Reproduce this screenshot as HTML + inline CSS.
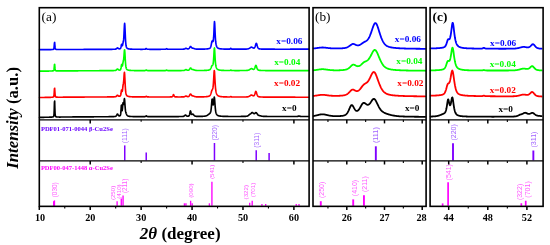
<!DOCTYPE html>
<html><head><meta charset="utf-8"><title>XRD</title><style>
html,body{margin:0;padding:0;background:#fff}
svg{display:block}
text{font-family:"Liberation Serif","Times New Roman",serif}
.tl{font-size:10.2px;font-weight:bold;text-anchor:middle}
.pl{font-size:13.3px}
.sl{font-size:9.25px;font-weight:bold;text-anchor:end}
.pdf{font-size:6.6px;font-weight:bold}
.ax{font-size:17px;font-weight:bold}
.vl{font-weight:normal;font-family:"Liberation Sans",Arial,sans-serif}
</style></head><body>
<svg width="550" height="245" viewBox="0 0 550 245">
<rect x="0" y="0" width="550" height="245" fill="#fff"/>
<polyline fill="none" stroke="#000" stroke-width="1.65" stroke-linejoin="round" stroke-linecap="round" points="39.55,117.39 39.76,117.39 39.97,117.39 40.18,117.38 40.38,117.38 40.59,117.37 40.80,117.37 41.00,117.36 41.21,117.36 41.42,117.36 41.62,117.35 41.83,117.35 42.04,117.34 42.25,117.34 42.45,117.34 42.66,117.33 42.87,117.33 43.07,117.32 43.28,117.32 43.49,117.31 43.69,117.31 43.90,117.31 44.11,117.30 44.32,117.30 44.52,117.29 44.73,117.29 44.94,117.29 45.14,117.28 45.35,117.28 45.56,117.27 45.76,117.27 45.97,117.27 46.18,117.26 46.39,117.26 46.59,117.25 46.80,117.25 47.01,117.25 47.21,117.24 47.42,117.24 47.63,117.23 47.83,117.23 48.04,117.22 48.25,117.22 48.46,117.21 48.66,117.21 48.87,117.20 49.08,117.20 49.28,117.19 49.49,117.19 49.70,117.18 49.91,117.18 50.11,117.17 50.32,117.16 50.53,117.15 50.73,117.15 50.94,117.14 51.15,117.13 51.35,117.11 51.56,117.10 51.77,117.08 51.98,117.06 52.18,117.04 52.39,117.01 52.60,116.97 52.80,116.92 53.01,116.85 53.22,116.75 53.42,116.59 53.63,116.33 53.84,115.75 54.05,113.95 54.25,109.15 54.46,101.87 54.67,101.14 54.87,108.27 55.08,113.53 55.29,115.60 55.49,116.26 55.70,116.54 55.91,116.70 56.12,116.80 56.32,116.87 56.53,116.91 56.74,116.95 56.94,116.97 57.15,116.99 57.36,117.00 57.56,117.02 57.77,117.02 57.98,117.03 58.19,117.04 58.39,117.04 58.60,117.04 58.81,117.04 59.01,117.05 59.22,117.05 59.43,117.05 59.63,117.05 59.84,117.05 60.05,117.05 60.26,117.05 60.46,117.05 60.67,117.05 60.88,117.04 61.08,117.04 61.29,117.04 61.50,117.04 61.70,117.04 61.91,117.04 62.12,117.04 62.33,117.03 62.53,117.03 62.74,117.03 62.95,117.03 63.15,117.03 63.36,117.03 63.57,117.02 63.77,117.02 63.98,117.02 64.19,117.02 64.40,117.02 64.60,117.01 64.81,117.01 65.02,117.01 65.22,117.01 65.43,117.01 65.64,117.01 65.84,117.00 66.05,117.00 66.26,117.00 66.47,117.00 66.67,117.00 66.88,116.99 67.09,116.99 67.29,116.99 67.50,116.99 67.71,116.99 67.91,116.98 68.12,116.98 68.33,116.98 68.54,116.98 68.74,116.98 68.95,116.98 69.16,116.97 69.36,116.97 69.57,116.97 69.78,116.97 69.98,116.97 70.19,116.96 70.40,116.96 70.61,116.96 70.81,116.96 71.02,116.96 71.23,116.95 71.43,116.95 71.64,116.95 71.85,116.95 72.06,116.95 72.26,116.95 72.47,116.94 72.68,116.94 72.88,116.94 73.09,116.94 73.30,116.94 73.50,116.94 73.71,116.93 73.92,116.93 74.13,116.93 74.33,116.93 74.54,116.93 74.75,116.93 74.95,116.92 75.16,116.92 75.37,116.92 75.57,116.92 75.78,116.92 75.99,116.92 76.20,116.91 76.40,116.91 76.61,116.91 76.82,116.91 77.02,116.91 77.23,116.91 77.44,116.90 77.64,116.90 77.85,116.90 78.06,116.90 78.27,116.90 78.47,116.90 78.68,116.89 78.89,116.89 79.09,116.89 79.30,116.89 79.51,116.89 79.71,116.89 79.92,116.89 80.13,116.88 80.34,116.88 80.54,116.88 80.75,116.88 80.96,116.88 81.16,116.88 81.37,116.88 81.58,116.87 81.78,116.87 81.99,116.87 82.20,116.87 82.41,116.87 82.61,116.87 82.82,116.87 83.03,116.86 83.23,116.86 83.44,116.86 83.65,116.86 83.85,116.86 84.06,116.86 84.27,116.86 84.48,116.85 84.68,116.85 84.89,116.85 85.10,116.85 85.30,116.85 85.51,116.85 85.72,116.85 85.92,116.84 86.13,116.84 86.34,116.84 86.55,116.84 86.75,116.84 86.96,116.84 87.17,116.84 87.37,116.84 87.58,116.83 87.79,116.83 87.99,116.83 88.20,116.83 88.41,116.83 88.62,116.83 88.82,116.83 89.03,116.82 89.24,116.82 89.44,116.82 89.65,116.82 89.86,116.82 90.06,116.82 90.27,116.82 90.48,116.82 90.69,116.81 90.89,116.81 91.10,116.81 91.31,116.81 91.51,116.81 91.72,116.81 91.93,116.81 92.13,116.81 92.34,116.80 92.55,116.80 92.76,116.80 92.96,116.80 93.17,116.80 93.38,116.80 93.58,116.80 93.79,116.80 94.00,116.80 94.21,116.79 94.41,116.79 94.62,116.79 94.83,116.79 95.03,116.79 95.24,116.79 95.45,116.79 95.65,116.79 95.86,116.78 96.07,116.78 96.28,116.78 96.48,116.78 96.69,116.78 96.90,116.78 97.10,116.78 97.31,116.78 97.52,116.77 97.72,116.77 97.93,116.77 98.14,116.77 98.35,116.77 98.55,116.77 98.76,116.77 98.97,116.77 99.17,116.77 99.38,116.76 99.59,116.76 99.79,116.76 100.00,116.76 100.21,116.76 100.42,116.76 100.62,116.76 100.83,116.76 101.04,116.75 101.24,116.75 101.45,116.75 101.66,116.75 101.86,116.75 102.07,116.75 102.28,116.75 102.49,116.74 102.69,116.74 102.90,116.74 103.11,116.74 103.31,116.74 103.52,116.74 103.73,116.74 103.93,116.73 104.14,116.73 104.35,116.73 104.56,116.73 104.76,116.73 104.97,116.73 105.18,116.73 105.38,116.72 105.59,116.72 105.80,116.72 106.00,116.72 106.21,116.72 106.42,116.72 106.63,116.71 106.83,116.71 107.04,116.71 107.25,116.71 107.45,116.71 107.66,116.70 107.87,116.70 108.07,116.70 108.28,116.70 108.49,116.70 108.70,116.69 108.90,116.69 109.11,116.69 109.32,116.69 109.52,116.68 109.73,116.68 109.94,116.68 110.14,116.68 110.35,116.67 110.56,116.67 110.77,116.67 110.97,116.66 111.18,116.66 111.39,116.65 111.59,116.65 111.80,116.64 112.01,116.64 112.21,116.63 112.42,116.63 112.63,116.62 112.84,116.61 113.04,116.61 113.25,116.60 113.46,116.59 113.66,116.58 113.87,116.57 114.08,116.56 114.28,116.54 114.49,116.52 114.70,116.50 114.91,116.48 115.11,116.45 115.32,116.40 115.53,116.34 115.73,116.25 115.94,116.11 116.15,115.92 116.36,115.67 116.56,115.34 116.77,114.97 116.98,114.58 117.18,114.23 117.39,114.04 117.60,114.05 117.80,114.27 118.01,114.60 118.22,114.95 118.43,115.27 118.63,115.53 118.84,115.72 119.05,115.83 119.25,115.88 119.46,115.88 119.67,115.84 119.87,115.76 120.08,115.61 120.29,115.38 120.50,114.90 120.70,113.88 120.91,111.83 121.12,108.63 121.32,105.44 121.53,105.05 121.74,107.54 121.94,109.92 122.15,110.67 122.36,109.66 122.57,107.39 122.77,104.65 122.98,102.78 123.19,102.80 123.39,103.89 123.60,104.51 123.81,103.84 124.01,101.92 124.22,99.63 124.43,98.57 124.64,99.81 124.84,102.69 125.05,105.84 125.26,108.50 125.46,110.43 125.67,111.73 125.88,112.60 126.08,113.24 126.29,113.77 126.50,114.23 126.71,114.64 126.91,115.00 127.12,115.30 127.33,115.54 127.53,115.74 127.74,115.89 127.95,116.00 128.15,116.09 128.36,116.16 128.57,116.22 128.78,116.27 128.98,116.30 129.19,116.34 129.40,116.36 129.60,116.39 129.81,116.41 130.02,116.43 130.22,116.44 130.43,116.46 130.64,116.47 130.85,116.49 131.05,116.50 131.26,116.51 131.47,116.52 131.67,116.52 131.88,116.53 132.09,116.54 132.29,116.54 132.50,116.55 132.71,116.56 132.92,116.56 133.12,116.56 133.33,116.57 133.54,116.57 133.74,116.58 133.95,116.58 134.16,116.58 134.36,116.59 134.57,116.59 134.78,116.59 134.99,116.59 135.19,116.60 135.40,116.60 135.61,116.60 135.81,116.60 136.02,116.60 136.23,116.60 136.43,116.61 136.64,116.61 136.85,116.61 137.06,116.61 137.26,116.61 137.47,116.61 137.68,116.61 137.88,116.61 138.09,116.61 138.30,116.62 138.51,116.62 138.71,116.62 138.92,116.62 139.13,116.62 139.33,116.62 139.54,116.62 139.75,116.62 139.95,116.62 140.16,116.62 140.37,116.62 140.58,116.62 140.78,116.62 140.99,116.62 141.20,116.62 141.40,116.62 141.61,116.62 141.82,116.62 142.02,116.62 142.23,116.62 142.44,116.62 142.65,116.62 142.85,116.62 143.06,116.62 143.27,116.61 143.47,116.61 143.68,116.61 143.89,116.61 144.09,116.60 144.30,116.60 144.51,116.59 144.72,116.58 144.92,116.57 145.13,116.54 145.34,116.48 145.54,116.37 145.75,116.20 145.96,115.99 146.16,115.84 146.37,115.87 146.58,116.06 146.79,116.27 146.99,116.42 147.20,116.51 147.41,116.55 147.61,116.57 147.82,116.59 148.03,116.59 148.23,116.60 148.44,116.60 148.65,116.61 148.86,116.61 149.06,116.61 149.27,116.61 149.48,116.61 149.68,116.61 149.89,116.62 150.10,116.62 150.30,116.62 150.51,116.62 150.72,116.62 150.93,116.62 151.13,116.62 151.34,116.62 151.55,116.62 151.75,116.62 151.96,116.62 152.17,116.62 152.37,116.62 152.58,116.62 152.79,116.62 153.00,116.62 153.20,116.62 153.41,116.62 153.62,116.62 153.82,116.62 154.03,116.62 154.24,116.62 154.44,116.62 154.65,116.62 154.86,116.62 155.07,116.62 155.27,116.62 155.48,116.62 155.69,116.61 155.89,116.61 156.10,116.61 156.31,116.61 156.51,116.61 156.72,116.61 156.93,116.61 157.14,116.61 157.34,116.61 157.55,116.61 157.76,116.61 157.96,116.61 158.17,116.61 158.38,116.61 158.58,116.61 158.79,116.61 159.00,116.61 159.21,116.61 159.41,116.61 159.62,116.61 159.83,116.61 160.03,116.61 160.24,116.61 160.45,116.61 160.66,116.61 160.86,116.61 161.07,116.61 161.28,116.61 161.48,116.61 161.69,116.61 161.90,116.61 162.10,116.61 162.31,116.61 162.52,116.60 162.73,116.60 162.93,116.60 163.14,116.60 163.35,116.60 163.55,116.60 163.76,116.60 163.97,116.60 164.17,116.60 164.38,116.60 164.59,116.60 164.80,116.60 165.00,116.60 165.21,116.60 165.42,116.60 165.62,116.60 165.83,116.60 166.04,116.60 166.24,116.60 166.45,116.60 166.66,116.60 166.87,116.60 167.07,116.60 167.28,116.60 167.49,116.59 167.69,116.59 167.90,116.59 168.11,116.59 168.31,116.59 168.52,116.59 168.73,116.59 168.94,116.59 169.14,116.59 169.35,116.59 169.56,116.59 169.76,116.59 169.97,116.59 170.18,116.59 170.38,116.59 170.59,116.59 170.80,116.59 171.01,116.59 171.21,116.59 171.42,116.58 171.63,116.58 171.83,116.58 172.04,116.58 172.25,116.58 172.45,116.58 172.66,116.58 172.87,116.58 173.08,116.58 173.28,116.58 173.49,116.58 173.70,116.58 173.90,116.58 174.11,116.58 174.32,116.57 174.52,116.57 174.73,116.57 174.94,116.57 175.15,116.57 175.35,116.57 175.56,116.57 175.77,116.57 175.97,116.57 176.18,116.57 176.39,116.57 176.59,116.56 176.80,116.56 177.01,116.56 177.22,116.56 177.42,116.56 177.63,116.56 177.84,116.56 178.04,116.55 178.25,116.55 178.46,116.55 178.66,116.55 178.87,116.55 179.08,116.54 179.29,116.54 179.49,116.54 179.70,116.54 179.91,116.53 180.11,116.53 180.32,116.53 180.53,116.53 180.74,116.52 180.94,116.52 181.15,116.51 181.36,116.51 181.56,116.50 181.77,116.49 181.98,116.49 182.18,116.48 182.39,116.47 182.60,116.45 182.81,116.44 183.01,116.41 183.22,116.38 183.43,116.34 183.63,116.28 183.84,116.19 184.05,116.08 184.25,115.94 184.46,115.78 184.67,115.59 184.88,115.40 185.08,115.23 185.29,115.12 185.50,115.09 185.70,115.15 185.91,115.29 186.12,115.46 186.32,115.64 186.53,115.80 186.74,115.94 186.95,116.04 187.15,116.12 187.36,116.17 187.57,116.20 187.77,116.21 187.98,116.20 188.19,116.17 188.39,116.14 188.60,116.07 188.81,115.97 189.02,115.80 189.22,115.50 189.43,115.02 189.64,114.28 189.84,113.30 190.05,112.18 190.26,111.23 190.46,110.88 190.67,111.32 190.88,112.23 191.09,113.15 191.29,113.87 191.50,114.30 191.71,114.49 191.91,114.50 192.12,114.41 192.33,114.28 192.53,114.17 192.74,114.12 192.95,114.16 193.16,114.29 193.36,114.48 193.57,114.72 193.78,114.96 193.98,115.20 194.19,115.43 194.40,115.62 194.60,115.79 194.81,115.93 195.02,116.04 195.23,116.12 195.43,116.19 195.64,116.24 195.85,116.27 196.05,116.30 196.26,116.32 196.47,116.34 196.67,116.35 196.88,116.36 197.09,116.37 197.30,116.38 197.50,116.38 197.71,116.39 197.92,116.39 198.12,116.39 198.33,116.40 198.54,116.40 198.74,116.40 198.95,116.40 199.16,116.40 199.37,116.40 199.57,116.40 199.78,116.40 199.99,116.39 200.19,116.39 200.40,116.39 200.61,116.38 200.81,116.38 201.02,116.38 201.23,116.37 201.44,116.37 201.64,116.36 201.85,116.35 202.06,116.35 202.26,116.34 202.47,116.33 202.68,116.32 202.89,116.31 203.09,116.30 203.30,116.29 203.51,116.28 203.71,116.27 203.92,116.25 204.13,116.23 204.33,116.21 204.54,116.19 204.75,116.16 204.96,116.13 205.16,116.10 205.37,116.06 205.58,116.02 205.78,115.96 205.99,115.91 206.20,115.84 206.40,115.76 206.61,115.67 206.82,115.58 207.03,115.47 207.23,115.35 207.44,115.22 207.65,115.08 207.85,114.94 208.06,114.78 208.27,114.62 208.47,114.46 208.68,114.29 208.89,114.13 209.10,113.97 209.30,113.82 209.51,113.66 209.72,113.50 209.92,113.30 210.13,113.06 210.34,112.72 210.54,112.24 210.75,111.53 210.96,110.49 211.17,109.00 211.37,106.99 211.58,104.48 211.79,101.76 211.99,99.64 212.20,99.12 212.41,100.31 212.61,102.26 212.82,103.96 213.03,104.90 213.24,104.92 213.44,104.02 213.65,102.31 213.86,100.12 214.06,98.07 214.27,97.11 214.48,97.89 214.68,100.15 214.89,103.03 215.10,105.81 215.31,108.16 215.51,110.02 215.72,111.44 215.93,112.48 216.13,113.25 216.34,113.81 216.55,114.24 216.75,114.56 216.96,114.81 217.17,115.02 217.38,115.19 217.58,115.33 217.79,115.45 218.00,115.56 218.20,115.65 218.41,115.72 218.62,115.79 218.82,115.85 219.03,115.90 219.24,115.95 219.45,115.99 219.65,116.03 219.86,116.06 220.07,116.09 220.27,116.12 220.48,116.15 220.69,116.17 220.89,116.19 221.10,116.21 221.31,116.23 221.52,116.24 221.72,116.26 221.93,116.27 222.14,116.28 222.34,116.29 222.55,116.31 222.76,116.32 222.96,116.33 223.17,116.33 223.38,116.34 223.59,116.35 223.79,116.36 224.00,116.36 224.21,116.37 224.41,116.38 224.62,116.38 224.83,116.39 225.04,116.39 225.24,116.40 225.45,116.40 225.66,116.41 225.86,116.41 226.07,116.41 226.28,116.42 226.48,116.42 226.69,116.42 226.90,116.43 227.11,116.43 227.31,116.43 227.52,116.44 227.73,116.44 227.93,116.44 228.14,116.44 228.35,116.45 228.55,116.45 228.76,116.45 228.97,116.45 229.18,116.45 229.38,116.45 229.59,116.46 229.80,116.46 230.00,116.46 230.21,116.46 230.42,116.46 230.62,116.46 230.83,116.46 231.04,116.46 231.25,116.46 231.45,116.47 231.66,116.47 231.87,116.47 232.07,116.47 232.28,116.47 232.49,116.47 232.69,116.47 232.90,116.47 233.11,116.47 233.32,116.47 233.52,116.47 233.73,116.47 233.94,116.47 234.14,116.47 234.35,116.47 234.56,116.47 234.76,116.47 234.97,116.47 235.18,116.47 235.39,116.47 235.59,116.47 235.80,116.47 236.01,116.47 236.21,116.47 236.42,116.47 236.63,116.47 236.83,116.47 237.04,116.47 237.25,116.47 237.46,116.47 237.66,116.47 237.87,116.47 238.08,116.47 238.28,116.46 238.49,116.46 238.70,116.46 238.90,116.46 239.11,116.46 239.32,116.46 239.53,116.46 239.73,116.46 239.94,116.45 240.15,116.45 240.35,116.45 240.56,116.45 240.77,116.45 240.97,116.44 241.18,116.44 241.39,116.44 241.60,116.44 241.80,116.43 242.01,116.43 242.22,116.43 242.42,116.42 242.63,116.42 242.84,116.42 243.04,116.41 243.25,116.41 243.46,116.40 243.67,116.40 243.87,116.39 244.08,116.38 244.29,116.38 244.49,116.37 244.70,116.36 244.91,116.35 245.11,116.34 245.32,116.33 245.53,116.32 245.74,116.31 245.94,116.29 246.15,116.27 246.36,116.25 246.56,116.23 246.77,116.19 246.98,116.15 247.19,116.10 247.39,116.04 247.60,115.96 247.81,115.87 248.01,115.75 248.22,115.61 248.43,115.45 248.63,115.27 248.84,115.07 249.05,114.87 249.26,114.67 249.46,114.49 249.67,114.34 249.88,114.21 250.08,114.09 250.29,113.98 250.50,113.85 250.70,113.70 250.91,113.53 251.12,113.33 251.33,113.12 251.53,112.92 251.74,112.73 251.95,112.59 252.15,112.51 252.36,112.51 252.57,112.58 252.77,112.72 252.98,112.89 253.19,113.09 253.40,113.27 253.60,113.44 253.81,113.57 254.02,113.64 254.22,113.67 254.43,113.63 254.64,113.54 254.84,113.40 255.05,113.23 255.26,113.03 255.47,112.85 255.67,112.70 255.88,112.62 256.09,112.62 256.29,112.72 256.50,112.91 256.71,113.16 256.91,113.46 257.12,113.77 257.33,114.08 257.54,114.37 257.74,114.63 257.95,114.86 258.16,115.05 258.36,115.21 258.57,115.33 258.78,115.42 258.98,115.48 259.19,115.53 259.40,115.57 259.61,115.61 259.81,115.65 260.02,115.69 260.23,115.75 260.43,115.81 260.64,115.87 260.85,115.93 261.05,115.99 261.26,116.05 261.47,116.10 261.68,116.15 261.88,116.19 262.09,116.23 262.30,116.26 262.50,116.28 262.71,116.30 262.92,116.32 263.12,116.34 263.33,116.35 263.54,116.36 263.75,116.37 263.95,116.38 264.16,116.39 264.37,116.39 264.57,116.40 264.78,116.41 264.99,116.41 265.19,116.42 265.40,116.42 265.61,116.42 265.82,116.43 266.02,116.43 266.23,116.43 266.44,116.44 266.64,116.44 266.85,116.44 267.06,116.44 267.26,116.45 267.47,116.45 267.68,116.45 267.89,116.45 268.09,116.45 268.30,116.46 268.51,116.46 268.71,116.46 268.92,116.46 269.13,116.46 269.34,116.46 269.54,116.47 269.75,116.47 269.96,116.47 270.16,116.47 270.37,116.47 270.58,116.47 270.78,116.47 270.99,116.47 271.20,116.47 271.41,116.47 271.61,116.48 271.82,116.48 272.03,116.48 272.23,116.48 272.44,116.48 272.65,116.48 272.85,116.48 273.06,116.48 273.27,116.48 273.48,116.48 273.68,116.48 273.89,116.48 274.10,116.48 274.30,116.48 274.51,116.48 274.72,116.48 274.92,116.48 275.13,116.48 275.34,116.48 275.55,116.49 275.75,116.49 275.96,116.49 276.17,116.49 276.37,116.49 276.58,116.49 276.79,116.49 276.99,116.49 277.20,116.49 277.41,116.49 277.62,116.49 277.82,116.49 278.03,116.49 278.24,116.49 278.44,116.49 278.65,116.49 278.86,116.49 279.06,116.49 279.27,116.49 279.48,116.49 279.69,116.49 279.89,116.49 280.10,116.49 280.31,116.49 280.51,116.49 280.72,116.49 280.93,116.49 281.13,116.49 281.34,116.49 281.55,116.49 281.76,116.49 281.96,116.49 282.17,116.49 282.38,116.49 282.58,116.49 282.79,116.49 283.00,116.49 283.20,116.49 283.41,116.49 283.62,116.49 283.83,116.49 284.03,116.49 284.24,116.49 284.45,116.49 284.65,116.49 284.86,116.49 285.07,116.49 285.27,116.49 285.48,116.49 285.69,116.49 285.90,116.49 286.10,116.49 286.31,116.49 286.52,116.49 286.72,116.49 286.93,116.49 287.14,116.49 287.34,116.49 287.55,116.49 287.76,116.49 287.97,116.49 288.17,116.49 288.38,116.49 288.59,116.49 288.79,116.49 289.00,116.49 289.21,116.49 289.41,116.49 289.62,116.49 289.83,116.49 290.04,116.49 290.24,116.49 290.45,116.49 290.66,116.49 290.86,116.49 291.07,116.49 291.28,116.49 291.49,116.49 291.69,116.49 291.90,116.49 292.11,116.49 292.31,116.49 292.52,116.49 292.73,116.49 292.93,116.49 293.14,116.49 293.35,116.49 293.56,116.49 293.76,116.48 293.97,116.48 294.18,116.48 294.38,116.48 294.59,116.48 294.80,116.48 295.00,116.48 295.21,116.48 295.42,116.48 295.63,116.48 295.83,116.48 296.04,116.47 296.25,116.47 296.45,116.47 296.66,116.46 296.87,116.46 297.07,116.45 297.28,116.44 297.49,116.42 297.70,116.39 297.90,116.35 298.11,116.28 298.32,116.20 298.52,116.11 298.73,116.03 298.94,115.99 299.14,116.00 299.35,116.07 299.56,116.16 299.77,116.24 299.97,116.31 300.18,116.37 300.39,116.40 300.59,116.43 300.80,116.44 301.01,116.45 301.21,116.46 301.42,116.46 301.63,116.47 301.84,116.47 302.04,116.47 302.25,116.47 302.46,116.47 302.66,116.48 302.87,116.48 303.08,116.48 303.28,116.48 303.49,116.48 303.70,116.48 303.91,116.48 304.11,116.48 304.32,116.48 304.53,116.48 304.73,116.48 304.94,116.48 305.15,116.48 305.35,116.48 305.56,116.48 305.77,116.48 305.98,116.48 306.18,116.48 306.39,116.48 306.60,116.48 306.80,116.48 307.01,116.48 307.22,116.48 307.42,116.48 307.63,116.48 307.84,116.48 308.05,116.48 308.25,116.48 308.46,116.48 308.67,116.48"/>
<polyline fill="none" stroke="#ff0000" stroke-width="1.65" stroke-linejoin="round" stroke-linecap="round" points="39.55,97.54 39.76,97.54 39.97,97.54 40.18,97.53 40.38,97.53 40.59,97.52 40.80,97.52 41.00,97.51 41.21,97.51 41.42,97.51 41.62,97.50 41.83,97.50 42.04,97.49 42.25,97.49 42.45,97.49 42.66,97.48 42.87,97.48 43.07,97.47 43.28,97.47 43.49,97.47 43.69,97.46 43.90,97.46 44.11,97.45 44.32,97.45 44.52,97.45 44.73,97.44 44.94,97.44 45.14,97.43 45.35,97.43 45.56,97.43 45.76,97.42 45.97,97.42 46.18,97.41 46.39,97.41 46.59,97.41 46.80,97.40 47.01,97.40 47.21,97.39 47.42,97.39 47.63,97.39 47.83,97.38 48.04,97.38 48.25,97.37 48.46,97.37 48.66,97.37 48.87,97.36 49.08,97.36 49.28,97.35 49.49,97.35 49.70,97.34 49.91,97.34 50.11,97.33 50.32,97.32 50.53,97.32 50.73,97.31 50.94,97.30 51.15,97.29 51.35,97.28 51.56,97.27 51.77,97.26 51.98,97.25 52.18,97.23 52.39,97.20 52.60,97.18 52.80,97.14 53.01,97.08 53.22,97.01 53.42,96.89 53.63,96.68 53.84,96.17 54.05,94.81 54.25,92.02 54.46,88.60 54.67,88.29 54.87,91.56 55.08,94.53 55.29,96.04 55.49,96.62 55.70,96.85 55.91,96.96 56.12,97.04 56.32,97.09 56.53,97.12 56.74,97.14 56.94,97.16 57.15,97.18 57.36,97.19 57.56,97.19 57.77,97.20 57.98,97.20 58.19,97.21 58.39,97.21 58.60,97.21 58.81,97.21 59.01,97.21 59.22,97.21 59.43,97.21 59.63,97.21 59.84,97.21 60.05,97.21 60.26,97.21 60.46,97.21 60.67,97.21 60.88,97.21 61.08,97.21 61.29,97.21 61.50,97.20 61.70,97.20 61.91,97.20 62.12,97.20 62.33,97.20 62.53,97.20 62.74,97.20 62.95,97.19 63.15,97.19 63.36,97.19 63.57,97.19 63.77,97.19 63.98,97.19 64.19,97.18 64.40,97.18 64.60,97.18 64.81,97.18 65.02,97.18 65.22,97.17 65.43,97.17 65.64,97.17 65.84,97.17 66.05,97.17 66.26,97.17 66.47,97.16 66.67,97.16 66.88,97.16 67.09,97.16 67.29,97.16 67.50,97.16 67.71,97.15 67.91,97.15 68.12,97.15 68.33,97.15 68.54,97.15 68.74,97.15 68.95,97.14 69.16,97.14 69.36,97.14 69.57,97.14 69.78,97.14 69.98,97.14 70.19,97.14 70.40,97.13 70.61,97.13 70.81,97.13 71.02,97.13 71.23,97.13 71.43,97.13 71.64,97.12 71.85,97.12 72.06,97.12 72.26,97.12 72.47,97.12 72.68,97.12 72.88,97.12 73.09,97.11 73.30,97.11 73.50,97.11 73.71,97.11 73.92,97.11 74.13,97.11 74.33,97.11 74.54,97.10 74.75,97.10 74.95,97.10 75.16,97.10 75.37,97.10 75.57,97.10 75.78,97.10 75.99,97.09 76.20,97.09 76.40,97.09 76.61,97.09 76.82,97.09 77.02,97.09 77.23,97.09 77.44,97.09 77.64,97.08 77.85,97.08 78.06,97.08 78.27,97.08 78.47,97.08 78.68,97.08 78.89,97.08 79.09,97.08 79.30,97.07 79.51,97.07 79.71,97.07 79.92,97.07 80.13,97.07 80.34,97.07 80.54,97.07 80.75,97.07 80.96,97.07 81.16,97.06 81.37,97.06 81.58,97.06 81.78,97.06 81.99,97.06 82.20,97.06 82.41,97.06 82.61,97.06 82.82,97.06 83.03,97.05 83.23,97.05 83.44,97.05 83.65,97.05 83.85,97.05 84.06,97.05 84.27,97.05 84.48,97.05 84.68,97.05 84.89,97.04 85.10,97.04 85.30,97.04 85.51,97.04 85.72,97.04 85.92,97.04 86.13,97.04 86.34,97.04 86.55,97.04 86.75,97.04 86.96,97.03 87.17,97.03 87.37,97.03 87.58,97.03 87.79,97.03 87.99,97.03 88.20,97.03 88.41,97.03 88.62,97.03 88.82,97.03 89.03,97.03 89.24,97.02 89.44,97.02 89.65,97.02 89.86,97.02 90.06,97.02 90.27,97.02 90.48,97.02 90.69,97.02 90.89,97.02 91.10,97.02 91.31,97.02 91.51,97.02 91.72,97.01 91.93,97.01 92.13,97.01 92.34,97.01 92.55,97.01 92.76,97.01 92.96,97.01 93.17,97.01 93.38,97.01 93.58,97.01 93.79,97.01 94.00,97.01 94.21,97.00 94.41,97.00 94.62,97.00 94.83,97.00 95.03,97.00 95.24,97.00 95.45,97.00 95.65,97.00 95.86,97.00 96.07,97.00 96.28,97.00 96.48,97.00 96.69,96.99 96.90,96.99 97.10,96.99 97.31,96.99 97.52,96.99 97.72,96.99 97.93,96.99 98.14,96.99 98.35,96.99 98.55,96.99 98.76,96.99 98.97,96.99 99.17,96.98 99.38,96.98 99.59,96.98 99.79,96.98 100.00,96.98 100.21,96.98 100.42,96.98 100.62,96.98 100.83,96.98 101.04,96.98 101.24,96.98 101.45,96.98 101.66,96.97 101.86,96.97 102.07,96.97 102.28,96.97 102.49,96.97 102.69,96.97 102.90,96.97 103.11,96.97 103.31,96.97 103.52,96.97 103.73,96.97 103.93,96.96 104.14,96.96 104.35,96.96 104.56,96.96 104.76,96.96 104.97,96.96 105.18,96.96 105.38,96.96 105.59,96.96 105.80,96.95 106.00,96.95 106.21,96.95 106.42,96.95 106.63,96.95 106.83,96.95 107.04,96.95 107.25,96.94 107.45,96.94 107.66,96.94 107.87,96.94 108.07,96.94 108.28,96.94 108.49,96.94 108.70,96.93 108.90,96.93 109.11,96.93 109.32,96.93 109.52,96.93 109.73,96.92 109.94,96.92 110.14,96.92 110.35,96.92 110.56,96.91 110.77,96.91 110.97,96.91 111.18,96.90 111.39,96.90 111.59,96.90 111.80,96.89 112.01,96.89 112.21,96.89 112.42,96.88 112.63,96.88 112.84,96.87 113.04,96.87 113.25,96.86 113.46,96.85 113.66,96.84 113.87,96.84 114.08,96.83 114.28,96.82 114.49,96.80 114.70,96.79 114.91,96.77 115.11,96.75 115.32,96.72 115.53,96.68 115.73,96.63 115.94,96.55 116.15,96.43 116.36,96.27 116.56,96.08 116.77,95.84 116.98,95.60 117.18,95.38 117.39,95.25 117.60,95.25 117.80,95.38 118.01,95.58 118.22,95.79 118.43,95.97 118.63,96.11 118.84,96.21 119.05,96.26 119.25,96.28 119.46,96.26 119.67,96.22 119.87,96.14 120.08,96.03 120.29,95.86 120.50,95.56 120.70,95.01 120.91,94.05 121.12,92.62 121.32,90.99 121.53,90.01 121.74,90.30 121.94,91.13 122.15,91.49 122.36,90.96 122.57,89.53 122.77,87.55 122.98,85.63 123.19,84.35 123.39,83.45 123.60,82.08 123.81,79.74 124.01,76.59 124.22,73.62 124.43,72.41 124.64,74.00 124.84,77.68 125.05,81.99 125.26,85.93 125.46,89.07 125.67,91.37 125.88,92.94 126.08,93.97 126.29,94.64 126.50,95.09 126.71,95.40 126.91,95.63 127.12,95.81 127.33,95.96 127.53,96.08 127.74,96.18 127.95,96.26 128.15,96.33 128.36,96.39 128.57,96.45 128.78,96.49 128.98,96.53 129.19,96.57 129.40,96.60 129.60,96.62 129.81,96.65 130.02,96.67 130.22,96.69 130.43,96.71 130.64,96.72 130.85,96.74 131.05,96.75 131.26,96.77 131.47,96.78 131.67,96.79 131.88,96.80 132.09,96.81 132.29,96.81 132.50,96.82 132.71,96.83 132.92,96.83 133.12,96.84 133.33,96.85 133.54,96.85 133.74,96.86 133.95,96.86 134.16,96.87 134.36,96.87 134.57,96.87 134.78,96.88 134.99,96.88 135.19,96.88 135.40,96.89 135.61,96.89 135.81,96.89 136.02,96.89 136.23,96.90 136.43,96.90 136.64,96.90 136.85,96.90 137.06,96.91 137.26,96.91 137.47,96.91 137.68,96.91 137.88,96.91 138.09,96.91 138.30,96.92 138.51,96.92 138.71,96.92 138.92,96.92 139.13,96.92 139.33,96.92 139.54,96.92 139.75,96.92 139.95,96.93 140.16,96.93 140.37,96.93 140.58,96.93 140.78,96.93 140.99,96.93 141.20,96.93 141.40,96.93 141.61,96.93 141.82,96.93 142.02,96.93 142.23,96.93 142.44,96.93 142.65,96.93 142.85,96.93 143.06,96.93 143.27,96.93 143.47,96.93 143.68,96.93 143.89,96.93 144.09,96.93 144.30,96.93 144.51,96.92 144.72,96.92 144.92,96.90 145.13,96.88 145.34,96.84 145.54,96.76 145.75,96.63 145.96,96.47 146.16,96.36 146.37,96.39 146.58,96.53 146.79,96.68 146.99,96.79 147.20,96.86 147.41,96.90 147.61,96.92 147.82,96.92 148.03,96.93 148.23,96.94 148.44,96.94 148.65,96.94 148.86,96.94 149.06,96.95 149.27,96.95 149.48,96.95 149.68,96.95 149.89,96.95 150.10,96.95 150.30,96.95 150.51,96.95 150.72,96.95 150.93,96.96 151.13,96.96 151.34,96.96 151.55,96.96 151.75,96.96 151.96,96.96 152.17,96.96 152.37,96.96 152.58,96.96 152.79,96.96 153.00,96.96 153.20,96.96 153.41,96.96 153.62,96.96 153.82,96.96 154.03,96.96 154.24,96.96 154.44,96.96 154.65,96.96 154.86,96.96 155.07,96.96 155.27,96.96 155.48,96.96 155.69,96.96 155.89,96.96 156.10,96.96 156.31,96.96 156.51,96.96 156.72,96.97 156.93,96.97 157.14,96.97 157.34,96.97 157.55,96.97 157.76,96.97 157.96,96.97 158.17,96.97 158.38,96.97 158.58,96.97 158.79,96.97 159.00,96.97 159.21,96.97 159.41,96.97 159.62,96.97 159.83,96.97 160.03,96.97 160.24,96.97 160.45,96.97 160.66,96.97 160.86,96.97 161.07,96.97 161.28,96.97 161.48,96.97 161.69,96.97 161.90,96.97 162.10,96.97 162.31,96.97 162.52,96.97 162.73,96.97 162.93,96.97 163.14,96.97 163.35,96.97 163.55,96.97 163.76,96.97 163.97,96.97 164.17,96.97 164.38,96.97 164.59,96.97 164.80,96.97 165.00,96.97 165.21,96.97 165.42,96.97 165.62,96.97 165.83,96.97 166.04,96.97 166.24,96.97 166.45,96.97 166.66,96.97 166.87,96.97 167.07,96.97 167.28,96.96 167.49,96.96 167.69,96.96 167.90,96.96 168.11,96.96 168.31,96.96 168.52,96.96 168.73,96.96 168.94,96.96 169.14,96.95 169.35,96.95 169.56,96.95 169.76,96.95 169.97,96.94 170.18,96.94 170.38,96.93 170.59,96.93 170.80,96.92 171.01,96.91 171.21,96.90 171.42,96.88 171.63,96.86 171.83,96.83 172.04,96.78 172.25,96.68 172.45,96.51 172.66,96.22 172.87,95.82 173.08,95.31 173.28,94.86 173.49,94.68 173.70,94.91 173.90,95.39 174.11,95.88 174.32,96.27 174.52,96.54 174.73,96.70 174.94,96.78 175.15,96.83 175.35,96.86 175.56,96.88 175.77,96.90 175.97,96.91 176.18,96.92 176.39,96.92 176.59,96.93 176.80,96.93 177.01,96.94 177.22,96.94 177.42,96.94 177.63,96.95 177.84,96.95 178.04,96.95 178.25,96.95 178.46,96.95 178.66,96.95 178.87,96.95 179.08,96.95 179.29,96.95 179.49,96.95 179.70,96.95 179.91,96.95 180.11,96.95 180.32,96.95 180.53,96.95 180.74,96.95 180.94,96.94 181.15,96.94 181.36,96.94 181.56,96.94 181.77,96.93 181.98,96.93 182.18,96.93 182.39,96.92 182.60,96.92 182.81,96.91 183.01,96.90 183.22,96.89 183.43,96.88 183.63,96.86 183.84,96.84 184.05,96.80 184.25,96.75 184.46,96.69 184.67,96.61 184.88,96.51 185.08,96.39 185.29,96.27 185.50,96.15 185.70,96.05 185.91,96.01 186.12,96.02 186.32,96.08 186.53,96.18 186.74,96.29 186.95,96.40 187.15,96.49 187.36,96.56 187.57,96.60 187.77,96.62 187.98,96.62 188.19,96.60 188.39,96.55 188.60,96.46 188.81,96.33 189.02,96.15 189.22,95.92 189.43,95.62 189.64,95.27 189.84,94.89 190.05,94.51 190.26,94.20 190.46,94.02 190.67,94.02 190.88,94.19 191.09,94.47 191.29,94.79 191.50,95.10 191.71,95.36 191.91,95.57 192.12,95.71 192.33,95.81 192.53,95.86 192.74,95.90 192.95,95.93 193.16,95.97 193.36,96.02 193.57,96.09 193.78,96.16 193.98,96.25 194.19,96.33 194.40,96.41 194.60,96.48 194.81,96.55 195.02,96.61 195.23,96.67 195.43,96.71 195.64,96.75 195.85,96.78 196.05,96.80 196.26,96.82 196.47,96.84 196.67,96.85 196.88,96.86 197.09,96.87 197.30,96.87 197.50,96.88 197.71,96.88 197.92,96.89 198.12,96.89 198.33,96.89 198.54,96.89 198.74,96.89 198.95,96.89 199.16,96.89 199.37,96.89 199.57,96.89 199.78,96.89 199.99,96.89 200.19,96.89 200.40,96.89 200.61,96.89 200.81,96.89 201.02,96.88 201.23,96.88 201.44,96.88 201.64,96.87 201.85,96.87 202.06,96.87 202.26,96.86 202.47,96.86 202.68,96.85 202.89,96.85 203.09,96.84 203.30,96.84 203.51,96.83 203.71,96.82 203.92,96.82 204.13,96.81 204.33,96.80 204.54,96.79 204.75,96.78 204.96,96.77 205.16,96.76 205.37,96.74 205.58,96.73 205.78,96.72 205.99,96.70 206.20,96.68 206.40,96.66 206.61,96.64 206.82,96.62 207.03,96.59 207.23,96.57 207.44,96.54 207.65,96.50 207.85,96.46 208.06,96.42 208.27,96.38 208.47,96.32 208.68,96.26 208.89,96.19 209.10,96.11 209.30,96.01 209.51,95.88 209.72,95.72 209.92,95.51 210.13,95.25 210.34,94.91 210.54,94.48 210.75,93.96 210.96,93.35 211.17,92.66 211.37,91.93 211.58,91.22 211.79,90.59 211.99,90.11 212.20,89.76 212.41,89.43 212.61,88.99 212.82,88.29 213.03,87.17 213.24,85.48 213.44,83.06 213.65,79.83 213.86,76.02 214.06,72.45 214.27,70.60 214.48,71.54 214.68,74.77 214.89,78.84 215.10,82.61 215.31,85.67 215.51,88.02 215.72,89.80 215.93,91.14 216.13,92.17 216.34,92.96 216.55,93.58 216.75,94.08 216.96,94.48 217.17,94.81 217.38,95.08 217.58,95.30 217.79,95.49 218.00,95.65 218.20,95.79 218.41,95.91 218.62,96.01 218.82,96.10 219.03,96.18 219.24,96.25 219.45,96.31 219.65,96.37 219.86,96.41 220.07,96.46 220.27,96.50 220.48,96.54 220.69,96.57 220.89,96.60 221.10,96.63 221.31,96.65 221.52,96.67 221.72,96.70 221.93,96.72 222.14,96.73 222.34,96.75 222.55,96.77 222.76,96.78 222.96,96.79 223.17,96.81 223.38,96.82 223.59,96.83 223.79,96.84 224.00,96.85 224.21,96.86 224.41,96.87 224.62,96.87 224.83,96.88 225.04,96.89 225.24,96.90 225.45,96.90 225.66,96.91 225.86,96.91 226.07,96.92 226.28,96.93 226.48,96.93 226.69,96.93 226.90,96.94 227.11,96.94 227.31,96.95 227.52,96.95 227.73,96.95 227.93,96.96 228.14,96.96 228.35,96.96 228.55,96.96 228.76,96.96 228.97,96.97 229.18,96.96 229.38,96.96 229.59,96.96 229.80,96.94 230.00,96.91 230.21,96.83 230.42,96.68 230.62,96.52 230.83,96.49 231.04,96.63 231.25,96.80 231.45,96.90 231.66,96.95 231.87,96.98 232.07,96.99 232.28,96.99 232.49,97.00 232.69,97.00 232.90,97.01 233.11,97.01 233.32,97.01 233.52,97.02 233.73,97.02 233.94,97.02 234.14,97.02 234.35,97.02 234.56,97.02 234.76,97.02 234.97,97.03 235.18,97.03 235.39,97.03 235.59,97.03 235.80,97.03 236.01,97.03 236.21,97.03 236.42,97.03 236.63,97.03 236.83,97.03 237.04,97.03 237.25,97.03 237.46,97.04 237.66,97.04 237.87,97.04 238.08,97.04 238.28,97.04 238.49,97.04 238.70,97.04 238.90,97.04 239.11,97.04 239.32,97.04 239.53,97.04 239.73,97.04 239.94,97.04 240.15,97.04 240.35,97.04 240.56,97.04 240.77,97.03 240.97,97.03 241.18,97.03 241.39,97.03 241.60,97.03 241.80,97.03 242.01,97.03 242.22,97.03 242.42,97.03 242.63,97.03 242.84,97.02 243.04,97.02 243.25,97.02 243.46,97.02 243.67,97.02 243.87,97.01 244.08,97.01 244.29,97.01 244.49,97.00 244.70,97.00 244.91,97.00 245.11,96.99 245.32,96.99 245.53,96.98 245.74,96.97 245.94,96.96 246.15,96.96 246.36,96.95 246.56,96.93 246.77,96.92 246.98,96.90 247.19,96.88 247.39,96.86 247.60,96.83 247.81,96.79 248.01,96.74 248.22,96.69 248.43,96.63 248.63,96.55 248.84,96.47 249.05,96.37 249.26,96.26 249.46,96.14 249.67,96.01 249.88,95.87 250.08,95.72 250.29,95.58 250.50,95.43 250.70,95.31 250.91,95.20 251.12,95.12 251.33,95.08 251.53,95.08 251.74,95.11 251.95,95.18 252.15,95.27 252.36,95.37 252.57,95.48 252.77,95.59 252.98,95.69 253.19,95.76 253.40,95.81 253.60,95.81 253.81,95.75 254.02,95.63 254.22,95.41 254.43,95.08 254.64,94.64 254.84,94.09 255.05,93.45 255.26,92.77 255.47,92.13 255.67,91.64 255.88,91.43 256.09,91.57 256.29,92.01 256.50,92.65 256.71,93.37 256.91,94.07 257.12,94.71 257.33,95.24 257.54,95.67 257.74,96.01 257.95,96.25 258.16,96.43 258.36,96.56 258.57,96.65 258.78,96.72 258.98,96.77 259.19,96.81 259.40,96.85 259.61,96.87 259.81,96.90 260.02,96.92 260.23,96.93 260.43,96.95 260.64,96.96 260.85,96.98 261.05,96.99 261.26,97.00 261.47,97.01 261.68,97.01 261.88,97.02 262.09,97.03 262.30,97.03 262.50,97.04 262.71,97.05 262.92,97.05 263.12,97.06 263.33,97.06 263.54,97.06 263.75,97.07 263.95,97.07 264.16,97.07 264.37,97.08 264.57,97.08 264.78,97.08 264.99,97.09 265.19,97.09 265.40,97.09 265.61,97.09 265.82,97.10 266.02,97.10 266.23,97.10 266.44,97.10 266.64,97.10 266.85,97.11 267.06,97.11 267.26,97.11 267.47,97.11 267.68,97.11 267.89,97.11 268.09,97.11 268.30,97.12 268.51,97.12 268.71,97.12 268.92,97.12 269.13,97.12 269.34,97.12 269.54,97.12 269.75,97.12 269.96,97.13 270.16,97.13 270.37,97.13 270.58,97.13 270.78,97.13 270.99,97.13 271.20,97.13 271.41,97.13 271.61,97.13 271.82,97.13 272.03,97.14 272.23,97.14 272.44,97.14 272.65,97.14 272.85,97.14 273.06,97.14 273.27,97.14 273.48,97.14 273.68,97.14 273.89,97.14 274.10,97.14 274.30,97.14 274.51,97.14 274.72,97.15 274.92,97.15 275.13,97.15 275.34,97.15 275.55,97.15 275.75,97.15 275.96,97.15 276.17,97.15 276.37,97.15 276.58,97.15 276.79,97.15 276.99,97.15 277.20,97.15 277.41,97.15 277.62,97.15 277.82,97.15 278.03,97.16 278.24,97.16 278.44,97.16 278.65,97.16 278.86,97.16 279.06,97.16 279.27,97.16 279.48,97.16 279.69,97.16 279.89,97.16 280.10,97.16 280.31,97.16 280.51,97.16 280.72,97.16 280.93,97.16 281.13,97.16 281.34,97.16 281.55,97.16 281.76,97.17 281.96,97.17 282.17,97.17 282.38,97.17 282.58,97.17 282.79,97.17 283.00,97.17 283.20,97.17 283.41,97.17 283.62,97.17 283.83,97.17 284.03,97.17 284.24,97.17 284.45,97.17 284.65,97.17 284.86,97.17 285.07,97.17 285.27,97.17 285.48,97.17 285.69,97.17 285.90,97.18 286.10,97.18 286.31,97.18 286.52,97.18 286.72,97.18 286.93,97.18 287.14,97.18 287.34,97.18 287.55,97.18 287.76,97.18 287.97,97.18 288.17,97.18 288.38,97.18 288.59,97.18 288.79,97.18 289.00,97.18 289.21,97.18 289.41,97.18 289.62,97.18 289.83,97.18 290.04,97.18 290.24,97.18 290.45,97.19 290.66,97.19 290.86,97.19 291.07,97.19 291.28,97.19 291.49,97.19 291.69,97.19 291.90,97.19 292.11,97.19 292.31,97.19 292.52,97.19 292.73,97.19 292.93,97.19 293.14,97.19 293.35,97.19 293.56,97.19 293.76,97.19 293.97,97.19 294.18,97.19 294.38,97.19 294.59,97.19 294.80,97.19 295.00,97.19 295.21,97.19 295.42,97.20 295.63,97.20 295.83,97.20 296.04,97.20 296.25,97.20 296.45,97.20 296.66,97.20 296.87,97.20 297.07,97.20 297.28,97.20 297.49,97.20 297.70,97.20 297.90,97.20 298.11,97.20 298.32,97.20 298.52,97.20 298.73,97.20 298.94,97.20 299.14,97.20 299.35,97.20 299.56,97.20 299.77,97.20 299.97,97.20 300.18,97.20 300.39,97.21 300.59,97.21 300.80,97.21 301.01,97.21 301.21,97.21 301.42,97.21 301.63,97.21 301.84,97.21 302.04,97.21 302.25,97.21 302.46,97.21 302.66,97.21 302.87,97.21 303.08,97.21 303.28,97.21 303.49,97.21 303.70,97.21 303.91,97.21 304.11,97.21 304.32,97.21 304.53,97.21 304.73,97.21 304.94,97.21 305.15,97.21 305.35,97.21 305.56,97.22 305.77,97.22 305.98,97.22 306.18,97.22 306.39,97.22 306.60,97.22 306.80,97.22 307.01,97.22 307.22,97.22 307.42,97.22 307.63,97.22 307.84,97.22 308.05,97.22 308.25,97.22 308.46,97.22 308.67,97.22"/>
<polyline fill="none" stroke="#00ff00" stroke-width="1.65" stroke-linejoin="round" stroke-linecap="round" points="39.55,71.20 39.76,71.19 39.97,71.19 40.18,71.19 40.38,71.18 40.59,71.18 40.80,71.18 41.00,71.17 41.21,71.17 41.42,71.16 41.62,71.16 41.83,71.16 42.04,71.15 42.25,71.15 42.45,71.15 42.66,71.14 42.87,71.14 43.07,71.14 43.28,71.13 43.49,71.13 43.69,71.13 43.90,71.13 44.11,71.12 44.32,71.12 44.52,71.12 44.73,71.11 44.94,71.11 45.14,71.11 45.35,71.10 45.56,71.10 45.76,71.10 45.97,71.09 46.18,71.09 46.39,71.09 46.59,71.08 46.80,71.08 47.01,71.08 47.21,71.07 47.42,71.07 47.63,71.07 47.83,71.06 48.04,71.06 48.25,71.06 48.46,71.05 48.66,71.05 48.87,71.05 49.08,71.04 49.28,71.04 49.49,71.03 49.70,71.03 49.91,71.03 50.11,71.02 50.32,71.02 50.53,71.01 50.73,71.01 50.94,71.00 51.15,70.99 51.35,70.99 51.56,70.98 51.77,70.97 51.98,70.96 52.18,70.94 52.39,70.93 52.60,70.90 52.80,70.88 53.01,70.84 53.22,70.78 53.42,70.70 53.63,70.54 53.84,70.16 54.05,69.16 54.25,67.10 54.46,64.58 54.67,64.35 54.87,66.76 55.08,68.95 55.29,70.06 55.49,70.49 55.70,70.66 55.91,70.74 56.12,70.80 56.32,70.83 56.53,70.86 56.74,70.87 56.94,70.89 57.15,70.90 57.36,70.90 57.56,70.91 57.77,70.91 57.98,70.92 58.19,70.92 58.39,70.92 58.60,70.92 58.81,70.92 59.01,70.92 59.22,70.92 59.43,70.92 59.63,70.92 59.84,70.92 60.05,70.92 60.26,70.92 60.46,70.92 60.67,70.92 60.88,70.92 61.08,70.91 61.29,70.91 61.50,70.91 61.70,70.91 61.91,70.91 62.12,70.91 62.33,70.91 62.53,70.90 62.74,70.90 62.95,70.90 63.15,70.90 63.36,70.90 63.57,70.90 63.77,70.90 63.98,70.89 64.19,70.89 64.40,70.89 64.60,70.89 64.81,70.89 65.02,70.89 65.22,70.88 65.43,70.88 65.64,70.88 65.84,70.88 66.05,70.88 66.26,70.88 66.47,70.88 66.67,70.87 66.88,70.87 67.09,70.87 67.29,70.87 67.50,70.87 67.71,70.87 67.91,70.86 68.12,70.86 68.33,70.86 68.54,70.86 68.74,70.86 68.95,70.86 69.16,70.86 69.36,70.85 69.57,70.85 69.78,70.85 69.98,70.85 70.19,70.85 70.40,70.85 70.61,70.85 70.81,70.84 71.02,70.84 71.23,70.84 71.43,70.84 71.64,70.84 71.85,70.84 72.06,70.84 72.26,70.83 72.47,70.83 72.68,70.83 72.88,70.83 73.09,70.83 73.30,70.83 73.50,70.83 73.71,70.82 73.92,70.82 74.13,70.82 74.33,70.82 74.54,70.82 74.75,70.82 74.95,70.82 75.16,70.81 75.37,70.81 75.57,70.81 75.78,70.81 75.99,70.81 76.20,70.81 76.40,70.81 76.61,70.81 76.82,70.80 77.02,70.80 77.23,70.80 77.44,70.80 77.64,70.80 77.85,70.80 78.06,70.80 78.27,70.80 78.47,70.79 78.68,70.79 78.89,70.79 79.09,70.79 79.30,70.79 79.51,70.79 79.71,70.79 79.92,70.79 80.13,70.79 80.34,70.78 80.54,70.78 80.75,70.78 80.96,70.78 81.16,70.78 81.37,70.78 81.58,70.78 81.78,70.78 81.99,70.78 82.20,70.77 82.41,70.77 82.61,70.77 82.82,70.77 83.03,70.77 83.23,70.77 83.44,70.77 83.65,70.77 83.85,70.77 84.06,70.76 84.27,70.76 84.48,70.76 84.68,70.76 84.89,70.76 85.10,70.76 85.30,70.76 85.51,70.76 85.72,70.76 85.92,70.76 86.13,70.75 86.34,70.75 86.55,70.75 86.75,70.75 86.96,70.75 87.17,70.75 87.37,70.75 87.58,70.75 87.79,70.75 87.99,70.75 88.20,70.74 88.41,70.74 88.62,70.74 88.82,70.74 89.03,70.74 89.24,70.74 89.44,70.74 89.65,70.74 89.86,70.74 90.06,70.74 90.27,70.73 90.48,70.73 90.69,70.73 90.89,70.73 91.10,70.73 91.31,70.73 91.51,70.73 91.72,70.73 91.93,70.73 92.13,70.73 92.34,70.73 92.55,70.72 92.76,70.72 92.96,70.72 93.17,70.72 93.38,70.72 93.58,70.72 93.79,70.72 94.00,70.72 94.21,70.72 94.41,70.72 94.62,70.72 94.83,70.71 95.03,70.71 95.24,70.71 95.45,70.71 95.65,70.71 95.86,70.71 96.07,70.71 96.28,70.71 96.48,70.71 96.69,70.71 96.90,70.71 97.10,70.70 97.31,70.70 97.52,70.70 97.72,70.70 97.93,70.70 98.14,70.70 98.35,70.70 98.55,70.70 98.76,70.70 98.97,70.70 99.17,70.70 99.38,70.69 99.59,70.69 99.79,70.69 100.00,70.69 100.21,70.69 100.42,70.69 100.62,70.69 100.83,70.69 101.04,70.69 101.24,70.69 101.45,70.68 101.66,70.68 101.86,70.68 102.07,70.68 102.28,70.68 102.49,70.68 102.69,70.68 102.90,70.68 103.11,70.68 103.31,70.68 103.52,70.67 103.73,70.67 103.93,70.67 104.14,70.67 104.35,70.67 104.56,70.67 104.76,70.67 104.97,70.67 105.18,70.67 105.38,70.66 105.59,70.66 105.80,70.66 106.00,70.66 106.21,70.66 106.42,70.66 106.63,70.66 106.83,70.66 107.04,70.65 107.25,70.65 107.45,70.65 107.66,70.65 107.87,70.65 108.07,70.65 108.28,70.64 108.49,70.64 108.70,70.64 108.90,70.64 109.11,70.64 109.32,70.63 109.52,70.63 109.73,70.63 109.94,70.63 110.14,70.63 110.35,70.62 110.56,70.62 110.77,70.62 110.97,70.62 111.18,70.61 111.39,70.61 111.59,70.61 111.80,70.60 112.01,70.60 112.21,70.59 112.42,70.59 112.63,70.59 112.84,70.58 113.04,70.58 113.25,70.57 113.46,70.56 113.66,70.56 113.87,70.55 114.08,70.54 114.28,70.53 114.49,70.52 114.70,70.50 114.91,70.49 115.11,70.47 115.32,70.44 115.53,70.40 115.73,70.35 115.94,70.27 116.15,70.15 116.36,70.00 116.56,69.80 116.77,69.56 116.98,69.32 117.18,69.10 117.39,68.98 117.60,68.98 117.80,69.11 118.01,69.32 118.22,69.53 118.43,69.72 118.63,69.88 118.84,69.98 119.05,70.04 119.25,70.07 119.46,70.06 119.67,70.04 119.87,69.98 120.08,69.91 120.29,69.79 120.50,69.59 120.70,69.22 120.91,68.55 121.12,67.46 121.32,66.01 121.53,64.72 121.74,64.44 121.94,65.15 122.15,65.85 122.36,65.92 122.57,65.24 122.77,63.98 122.98,62.59 123.19,61.55 123.39,60.84 123.60,59.86 123.81,58.09 124.01,55.46 124.22,52.44 124.43,50.14 124.64,49.91 124.84,52.05 125.05,55.54 125.26,59.19 125.46,62.32 125.67,64.74 125.88,66.45 126.08,67.60 126.29,68.34 126.50,68.83 126.71,69.16 126.91,69.40 127.12,69.58 127.33,69.72 127.53,69.83 127.74,69.93 127.95,70.00 128.15,70.07 128.36,70.13 128.57,70.18 128.78,70.22 128.98,70.25 129.19,70.29 129.40,70.31 129.60,70.34 129.81,70.36 130.02,70.38 130.22,70.40 130.43,70.41 130.64,70.43 130.85,70.44 131.05,70.45 131.26,70.46 131.47,70.47 131.67,70.48 131.88,70.49 132.09,70.50 132.29,70.51 132.50,70.51 132.71,70.52 132.92,70.52 133.12,70.53 133.33,70.53 133.54,70.54 133.74,70.54 133.95,70.55 134.16,70.55 134.36,70.55 134.57,70.56 134.78,70.56 134.99,70.56 135.19,70.56 135.40,70.57 135.61,70.57 135.81,70.57 136.02,70.57 136.23,70.57 136.43,70.58 136.64,70.58 136.85,70.58 137.06,70.58 137.26,70.58 137.47,70.58 137.68,70.58 137.88,70.59 138.09,70.59 138.30,70.59 138.51,70.59 138.71,70.59 138.92,70.59 139.13,70.59 139.33,70.59 139.54,70.59 139.75,70.59 139.95,70.59 140.16,70.59 140.37,70.59 140.58,70.60 140.78,70.60 140.99,70.60 141.20,70.60 141.40,70.60 141.61,70.60 141.82,70.60 142.02,70.60 142.23,70.60 142.44,70.60 142.65,70.60 142.85,70.60 143.06,70.60 143.27,70.59 143.47,70.59 143.68,70.59 143.89,70.59 144.09,70.59 144.30,70.59 144.51,70.58 144.72,70.57 144.92,70.56 145.13,70.54 145.34,70.50 145.54,70.42 145.75,70.29 145.96,70.13 146.16,70.02 146.37,70.04 146.58,70.18 146.79,70.34 146.99,70.45 147.20,70.52 147.41,70.55 147.61,70.57 147.82,70.58 148.03,70.58 148.23,70.59 148.44,70.59 148.65,70.59 148.86,70.60 149.06,70.60 149.27,70.60 149.48,70.60 149.68,70.60 149.89,70.60 150.10,70.60 150.30,70.60 150.51,70.60 150.72,70.60 150.93,70.60 151.13,70.60 151.34,70.60 151.55,70.60 151.75,70.61 151.96,70.61 152.17,70.61 152.37,70.61 152.58,70.61 152.79,70.61 153.00,70.61 153.20,70.61 153.41,70.61 153.62,70.61 153.82,70.61 154.03,70.61 154.24,70.61 154.44,70.61 154.65,70.61 154.86,70.61 155.07,70.61 155.27,70.61 155.48,70.61 155.69,70.61 155.89,70.61 156.10,70.61 156.31,70.61 156.51,70.61 156.72,70.61 156.93,70.61 157.14,70.61 157.34,70.60 157.55,70.60 157.76,70.60 157.96,70.60 158.17,70.60 158.38,70.60 158.58,70.60 158.79,70.60 159.00,70.60 159.21,70.60 159.41,70.60 159.62,70.60 159.83,70.60 160.03,70.60 160.24,70.60 160.45,70.60 160.66,70.60 160.86,70.60 161.07,70.60 161.28,70.60 161.48,70.60 161.69,70.60 161.90,70.60 162.10,70.60 162.31,70.60 162.52,70.60 162.73,70.60 162.93,70.60 163.14,70.60 163.35,70.60 163.55,70.60 163.76,70.59 163.97,70.59 164.17,70.59 164.38,70.59 164.59,70.59 164.80,70.58 165.00,70.58 165.21,70.57 165.42,70.56 165.62,70.53 165.83,70.47 166.04,70.38 166.24,70.25 166.45,70.13 166.66,70.11 166.87,70.20 167.07,70.33 167.28,70.44 167.49,70.51 167.69,70.54 167.90,70.56 168.11,70.57 168.31,70.58 168.52,70.58 168.73,70.58 168.94,70.59 169.14,70.59 169.35,70.59 169.56,70.59 169.76,70.59 169.97,70.59 170.18,70.59 170.38,70.59 170.59,70.59 170.80,70.59 171.01,70.59 171.21,70.59 171.42,70.59 171.63,70.59 171.83,70.59 172.04,70.59 172.25,70.59 172.45,70.59 172.66,70.59 172.87,70.59 173.08,70.59 173.28,70.59 173.49,70.59 173.70,70.59 173.90,70.59 174.11,70.59 174.32,70.59 174.52,70.59 174.73,70.59 174.94,70.59 175.15,70.59 175.35,70.59 175.56,70.59 175.77,70.58 175.97,70.58 176.18,70.58 176.39,70.58 176.59,70.58 176.80,70.58 177.01,70.58 177.22,70.58 177.42,70.58 177.63,70.58 177.84,70.58 178.04,70.58 178.25,70.58 178.46,70.58 178.66,70.57 178.87,70.57 179.08,70.57 179.29,70.57 179.49,70.57 179.70,70.57 179.91,70.57 180.11,70.56 180.32,70.56 180.53,70.56 180.74,70.56 180.94,70.56 181.15,70.55 181.36,70.55 181.56,70.55 181.77,70.54 181.98,70.54 182.18,70.54 182.39,70.53 182.60,70.53 182.81,70.52 183.01,70.51 183.22,70.50 183.43,70.49 183.63,70.47 183.84,70.45 184.05,70.41 184.25,70.36 184.46,70.30 184.67,70.22 184.88,70.12 185.08,70.00 185.29,69.88 185.50,69.76 185.70,69.66 185.91,69.62 186.12,69.63 186.32,69.70 186.53,69.80 186.74,69.91 186.95,70.01 187.15,70.10 187.36,70.17 187.57,70.22 187.77,70.25 187.98,70.25 188.19,70.23 188.39,70.19 188.60,70.12 188.81,70.01 189.02,69.85 189.22,69.65 189.43,69.40 189.64,69.09 189.84,68.76 190.05,68.44 190.26,68.17 190.46,68.01 190.67,68.01 190.88,68.15 191.09,68.39 191.29,68.65 191.50,68.91 191.71,69.12 191.91,69.29 192.12,69.40 192.33,69.47 192.53,69.51 192.74,69.54 192.95,69.56 193.16,69.60 193.36,69.64 193.57,69.70 193.78,69.78 193.98,69.86 194.19,69.94 194.40,70.02 194.60,70.09 194.81,70.16 195.02,70.22 195.23,70.27 195.43,70.31 195.64,70.35 195.85,70.38 196.05,70.40 196.26,70.42 196.47,70.44 196.67,70.45 196.88,70.46 197.09,70.47 197.30,70.47 197.50,70.48 197.71,70.48 197.92,70.49 198.12,70.49 198.33,70.49 198.54,70.49 198.74,70.49 198.95,70.50 199.16,70.50 199.37,70.50 199.57,70.50 199.78,70.50 199.99,70.50 200.19,70.50 200.40,70.50 200.61,70.49 200.81,70.49 201.02,70.49 201.23,70.49 201.44,70.49 201.64,70.49 201.85,70.48 202.06,70.48 202.26,70.48 202.47,70.48 202.68,70.47 202.89,70.47 203.09,70.47 203.30,70.46 203.51,70.46 203.71,70.45 203.92,70.45 204.13,70.44 204.33,70.44 204.54,70.43 204.75,70.42 204.96,70.42 205.16,70.41 205.37,70.40 205.58,70.39 205.78,70.38 205.99,70.37 206.20,70.36 206.40,70.34 206.61,70.33 206.82,70.32 207.03,70.30 207.23,70.28 207.44,70.26 207.65,70.24 207.85,70.21 208.06,70.19 208.27,70.15 208.47,70.12 208.68,70.08 208.89,70.03 209.10,69.98 209.30,69.91 209.51,69.83 209.72,69.72 209.92,69.58 210.13,69.39 210.34,69.15 210.54,68.84 210.75,68.46 210.96,68.00 211.17,67.48 211.37,66.93 211.58,66.40 211.79,65.96 211.99,65.65 212.20,65.47 212.41,65.35 212.61,65.16 212.82,64.80 213.03,64.14 213.24,63.06 213.44,61.38 213.65,58.92 213.86,55.58 214.06,51.70 214.27,48.52 214.48,47.94 214.68,50.41 214.89,54.34 215.10,58.11 215.31,61.09 215.51,63.28 215.72,64.87 215.93,66.03 216.13,66.89 216.34,67.54 216.55,68.03 216.75,68.42 216.96,68.73 217.17,68.98 217.38,69.18 217.58,69.35 217.79,69.48 218.00,69.60 218.20,69.70 218.41,69.79 218.62,69.86 218.82,69.93 219.03,69.98 219.24,70.03 219.45,70.07 219.65,70.11 219.86,70.15 220.07,70.18 220.27,70.21 220.48,70.23 220.69,70.25 220.89,70.28 221.10,70.29 221.31,70.31 221.52,70.33 221.72,70.34 221.93,70.35 222.14,70.37 222.34,70.38 222.55,70.39 222.76,70.40 222.96,70.41 223.17,70.42 223.38,70.42 223.59,70.43 223.79,70.44 224.00,70.44 224.21,70.45 224.41,70.46 224.62,70.46 224.83,70.47 225.04,70.47 225.24,70.47 225.45,70.48 225.66,70.48 225.86,70.49 226.07,70.49 226.28,70.49 226.48,70.50 226.69,70.50 226.90,70.50 227.11,70.50 227.31,70.51 227.52,70.51 227.73,70.51 227.93,70.51 228.14,70.51 228.35,70.51 228.55,70.51 228.76,70.51 228.97,70.51 229.18,70.51 229.38,70.51 229.59,70.50 229.80,70.49 230.00,70.45 230.21,70.37 230.42,70.24 230.62,70.08 230.83,70.05 231.04,70.19 231.25,70.34 231.45,70.44 231.66,70.49 231.87,70.51 232.07,70.52 232.28,70.53 232.49,70.53 232.69,70.53 232.90,70.54 233.11,70.54 233.32,70.54 233.52,70.54 233.73,70.54 233.94,70.54 234.14,70.54 234.35,70.55 234.56,70.55 234.76,70.55 234.97,70.55 235.18,70.55 235.39,70.55 235.59,70.55 235.80,70.55 236.01,70.55 236.21,70.55 236.42,70.55 236.63,70.55 236.83,70.55 237.04,70.55 237.25,70.55 237.46,70.55 237.66,70.55 237.87,70.55 238.08,70.55 238.28,70.55 238.49,70.55 238.70,70.55 238.90,70.55 239.11,70.55 239.32,70.55 239.53,70.55 239.73,70.55 239.94,70.54 240.15,70.54 240.35,70.54 240.56,70.54 240.77,70.54 240.97,70.54 241.18,70.54 241.39,70.54 241.60,70.54 241.80,70.54 242.01,70.53 242.22,70.53 242.42,70.53 242.63,70.53 242.84,70.53 243.04,70.52 243.25,70.52 243.46,70.52 243.67,70.52 243.87,70.51 244.08,70.51 244.29,70.51 244.49,70.50 244.70,70.50 244.91,70.49 245.11,70.49 245.32,70.48 245.53,70.48 245.74,70.47 245.94,70.46 246.15,70.46 246.36,70.45 246.56,70.43 246.77,70.42 246.98,70.40 247.19,70.38 247.39,70.36 247.60,70.33 247.81,70.29 248.01,70.25 248.22,70.20 248.43,70.14 248.63,70.07 248.84,69.99 249.05,69.89 249.26,69.79 249.46,69.67 249.67,69.55 249.88,69.41 250.08,69.27 250.29,69.13 250.50,69.00 250.70,68.88 250.91,68.78 251.12,68.70 251.33,68.66 251.53,68.66 251.74,68.69 251.95,68.76 252.15,68.84 252.36,68.94 252.57,69.05 252.77,69.15 252.98,69.25 253.19,69.32 253.40,69.37 253.60,69.37 253.81,69.33 254.02,69.21 254.22,69.02 254.43,68.72 254.64,68.33 254.84,67.83 255.05,67.25 255.26,66.63 255.47,66.05 255.67,65.61 255.88,65.41 256.09,65.54 256.29,65.94 256.50,66.52 256.71,67.17 256.91,67.81 257.12,68.39 257.33,68.88 257.54,69.27 257.74,69.57 257.95,69.80 258.16,69.96 258.36,70.08 258.57,70.16 258.78,70.22 258.98,70.27 259.19,70.30 259.40,70.33 259.61,70.36 259.81,70.38 260.02,70.40 260.23,70.41 260.43,70.43 260.64,70.44 260.85,70.45 261.05,70.46 261.26,70.47 261.47,70.48 261.68,70.48 261.88,70.49 262.09,70.50 262.30,70.50 262.50,70.51 262.71,70.51 262.92,70.52 263.12,70.52 263.33,70.52 263.54,70.53 263.75,70.53 263.95,70.53 264.16,70.54 264.37,70.54 264.57,70.54 264.78,70.54 264.99,70.54 265.19,70.55 265.40,70.55 265.61,70.55 265.82,70.55 266.02,70.55 266.23,70.56 266.44,70.56 266.64,70.56 266.85,70.56 267.06,70.56 267.26,70.56 267.47,70.56 267.68,70.56 267.89,70.56 268.09,70.57 268.30,70.57 268.51,70.57 268.71,70.57 268.92,70.57 269.13,70.57 269.34,70.57 269.54,70.57 269.75,70.57 269.96,70.57 270.16,70.57 270.37,70.57 270.58,70.57 270.78,70.57 270.99,70.58 271.20,70.58 271.41,70.58 271.61,70.58 271.82,70.58 272.03,70.58 272.23,70.58 272.44,70.58 272.65,70.58 272.85,70.58 273.06,70.58 273.27,70.58 273.48,70.58 273.68,70.58 273.89,70.58 274.10,70.58 274.30,70.58 274.51,70.58 274.72,70.58 274.92,70.58 275.13,70.58 275.34,70.58 275.55,70.58 275.75,70.58 275.96,70.58 276.17,70.58 276.37,70.58 276.58,70.58 276.79,70.59 276.99,70.59 277.20,70.59 277.41,70.59 277.62,70.59 277.82,70.59 278.03,70.59 278.24,70.59 278.44,70.59 278.65,70.59 278.86,70.59 279.06,70.59 279.27,70.59 279.48,70.59 279.69,70.59 279.89,70.59 280.10,70.59 280.31,70.59 280.51,70.59 280.72,70.59 280.93,70.59 281.13,70.59 281.34,70.59 281.55,70.59 281.76,70.59 281.96,70.59 282.17,70.59 282.38,70.59 282.58,70.59 282.79,70.59 283.00,70.59 283.20,70.59 283.41,70.59 283.62,70.59 283.83,70.59 284.03,70.59 284.24,70.59 284.45,70.59 284.65,70.59 284.86,70.59 285.07,70.59 285.27,70.59 285.48,70.59 285.69,70.59 285.90,70.59 286.10,70.59 286.31,70.59 286.52,70.59 286.72,70.59 286.93,70.59 287.14,70.59 287.34,70.59 287.55,70.59 287.76,70.59 287.97,70.59 288.17,70.59 288.38,70.59 288.59,70.59 288.79,70.59 289.00,70.59 289.21,70.59 289.41,70.59 289.62,70.59 289.83,70.59 290.04,70.59 290.24,70.59 290.45,70.59 290.66,70.59 290.86,70.59 291.07,70.59 291.28,70.59 291.49,70.59 291.69,70.59 291.90,70.59 292.11,70.59 292.31,70.59 292.52,70.59 292.73,70.59 292.93,70.59 293.14,70.59 293.35,70.59 293.56,70.59 293.76,70.59 293.97,70.59 294.18,70.59 294.38,70.59 294.59,70.59 294.80,70.59 295.00,70.59 295.21,70.59 295.42,70.59 295.63,70.59 295.83,70.59 296.04,70.59 296.25,70.59 296.45,70.59 296.66,70.59 296.87,70.59 297.07,70.59 297.28,70.59 297.49,70.59 297.70,70.59 297.90,70.59 298.11,70.59 298.32,70.59 298.52,70.59 298.73,70.59 298.94,70.60 299.14,70.60 299.35,70.60 299.56,70.60 299.77,70.60 299.97,70.60 300.18,70.60 300.39,70.60 300.59,70.60 300.80,70.60 301.01,70.60 301.21,70.60 301.42,70.60 301.63,70.60 301.84,70.60 302.04,70.60 302.25,70.60 302.46,70.60 302.66,70.60 302.87,70.60 303.08,70.60 303.28,70.60 303.49,70.60 303.70,70.60 303.91,70.60 304.11,70.60 304.32,70.60 304.53,70.60 304.73,70.60 304.94,70.60 305.15,70.60 305.35,70.60 305.56,70.60 305.77,70.60 305.98,70.60 306.18,70.60 306.39,70.60 306.60,70.60 306.80,70.60 307.01,70.60 307.22,70.60 307.42,70.60 307.63,70.60 307.84,70.60 308.05,70.60 308.25,70.60 308.46,70.60 308.67,70.60"/>
<polyline fill="none" stroke="#0000ff" stroke-width="1.65" stroke-linejoin="round" stroke-linecap="round" points="39.55,49.70 39.76,49.69 39.97,49.69 40.18,49.69 40.38,49.69 40.59,49.69 40.80,49.68 41.00,49.68 41.21,49.68 41.42,49.68 41.62,49.68 41.83,49.67 42.04,49.67 42.25,49.67 42.45,49.67 42.66,49.67 42.87,49.67 43.07,49.66 43.28,49.66 43.49,49.66 43.69,49.66 43.90,49.66 44.11,49.65 44.32,49.65 44.52,49.65 44.73,49.65 44.94,49.65 45.14,49.64 45.35,49.64 45.56,49.64 45.76,49.64 45.97,49.64 46.18,49.63 46.39,49.63 46.59,49.63 46.80,49.63 47.01,49.63 47.21,49.62 47.42,49.62 47.63,49.62 47.83,49.62 48.04,49.62 48.25,49.61 48.46,49.61 48.66,49.61 48.87,49.61 49.08,49.60 49.28,49.60 49.49,49.60 49.70,49.60 49.91,49.59 50.11,49.59 50.32,49.58 50.53,49.58 50.73,49.58 50.94,49.57 51.15,49.56 51.35,49.56 51.56,49.55 51.77,49.54 51.98,49.53 52.18,49.52 52.39,49.50 52.60,49.48 52.80,49.45 53.01,49.41 53.22,49.35 53.42,49.26 53.63,49.09 53.84,48.69 54.05,47.62 54.25,45.41 54.46,42.72 54.67,42.47 54.87,45.06 55.08,47.40 55.29,48.59 55.49,49.05 55.70,49.23 55.91,49.32 56.12,49.38 56.32,49.42 56.53,49.45 56.74,49.47 56.94,49.48 57.15,49.50 57.36,49.50 57.56,49.51 57.77,49.52 57.98,49.52 58.19,49.52 58.39,49.53 58.60,49.53 58.81,49.53 59.01,49.53 59.22,49.53 59.43,49.53 59.63,49.53 59.84,49.53 60.05,49.53 60.26,49.53 60.46,49.53 60.67,49.53 60.88,49.53 61.08,49.53 61.29,49.53 61.50,49.53 61.70,49.53 61.91,49.53 62.12,49.53 62.33,49.53 62.53,49.53 62.74,49.53 62.95,49.53 63.15,49.53 63.36,49.53 63.57,49.52 63.77,49.52 63.98,49.52 64.19,49.52 64.40,49.52 64.60,49.52 64.81,49.52 65.02,49.52 65.22,49.52 65.43,49.52 65.64,49.52 65.84,49.52 66.05,49.51 66.26,49.51 66.47,49.51 66.67,49.51 66.88,49.51 67.09,49.51 67.29,49.51 67.50,49.51 67.71,49.51 67.91,49.51 68.12,49.51 68.33,49.50 68.54,49.50 68.74,49.50 68.95,49.50 69.16,49.50 69.36,49.50 69.57,49.50 69.78,49.50 69.98,49.50 70.19,49.50 70.40,49.50 70.61,49.49 70.81,49.49 71.02,49.49 71.23,49.49 71.43,49.49 71.64,49.49 71.85,49.49 72.06,49.49 72.26,49.49 72.47,49.49 72.68,49.49 72.88,49.49 73.09,49.48 73.30,49.48 73.50,49.48 73.71,49.48 73.92,49.48 74.13,49.48 74.33,49.48 74.54,49.48 74.75,49.48 74.95,49.48 75.16,49.48 75.37,49.48 75.57,49.47 75.78,49.47 75.99,49.47 76.20,49.47 76.40,49.47 76.61,49.47 76.82,49.47 77.02,49.47 77.23,49.47 77.44,49.47 77.64,49.47 77.85,49.47 78.06,49.46 78.27,49.46 78.47,49.46 78.68,49.46 78.89,49.46 79.09,49.46 79.30,49.46 79.51,49.46 79.71,49.46 79.92,49.46 80.13,49.46 80.34,49.46 80.54,49.46 80.75,49.46 80.96,49.45 81.16,49.45 81.37,49.45 81.58,49.45 81.78,49.45 81.99,49.45 82.20,49.45 82.41,49.45 82.61,49.45 82.82,49.45 83.03,49.45 83.23,49.45 83.44,49.45 83.65,49.44 83.85,49.44 84.06,49.44 84.27,49.44 84.48,49.44 84.68,49.44 84.89,49.44 85.10,49.44 85.30,49.44 85.51,49.44 85.72,49.44 85.92,49.44 86.13,49.44 86.34,49.44 86.55,49.43 86.75,49.43 86.96,49.43 87.17,49.43 87.37,49.43 87.58,49.43 87.79,49.43 87.99,49.43 88.20,49.43 88.41,49.43 88.62,49.43 88.82,49.43 89.03,49.43 89.24,49.43 89.44,49.42 89.65,49.42 89.86,49.42 90.06,49.42 90.27,49.42 90.48,49.42 90.69,49.42 90.89,49.42 91.10,49.42 91.31,49.42 91.51,49.42 91.72,49.42 91.93,49.42 92.13,49.42 92.34,49.42 92.55,49.41 92.76,49.41 92.96,49.41 93.17,49.41 93.38,49.41 93.58,49.41 93.79,49.41 94.00,49.41 94.21,49.41 94.41,49.41 94.62,49.41 94.83,49.41 95.03,49.41 95.24,49.41 95.45,49.41 95.65,49.40 95.86,49.40 96.07,49.40 96.28,49.40 96.48,49.40 96.69,49.40 96.90,49.40 97.10,49.40 97.31,49.40 97.52,49.40 97.72,49.40 97.93,49.40 98.14,49.40 98.35,49.40 98.55,49.39 98.76,49.39 98.97,49.39 99.17,49.39 99.38,49.39 99.59,49.39 99.79,49.39 100.00,49.39 100.21,49.39 100.42,49.39 100.62,49.39 100.83,49.39 101.04,49.38 101.24,49.38 101.45,49.38 101.66,49.38 101.86,49.38 102.07,49.38 102.28,49.38 102.49,49.38 102.69,49.38 102.90,49.38 103.11,49.38 103.31,49.38 103.52,49.37 103.73,49.37 103.93,49.37 104.14,49.37 104.35,49.37 104.56,49.37 104.76,49.37 104.97,49.37 105.18,49.37 105.38,49.37 105.59,49.36 105.80,49.36 106.00,49.36 106.21,49.36 106.42,49.36 106.63,49.36 106.83,49.36 107.04,49.36 107.25,49.35 107.45,49.35 107.66,49.35 107.87,49.35 108.07,49.35 108.28,49.35 108.49,49.35 108.70,49.34 108.90,49.34 109.11,49.34 109.32,49.34 109.52,49.34 109.73,49.33 109.94,49.33 110.14,49.33 110.35,49.33 110.56,49.33 110.77,49.32 110.97,49.32 111.18,49.32 111.39,49.32 111.59,49.31 111.80,49.31 112.01,49.31 112.21,49.30 112.42,49.30 112.63,49.29 112.84,49.29 113.04,49.28 113.25,49.28 113.46,49.27 113.66,49.27 113.87,49.26 114.08,49.25 114.28,49.24 114.49,49.23 114.70,49.22 114.91,49.20 115.11,49.19 115.32,49.16 115.53,49.13 115.73,49.08 115.94,49.01 116.15,48.91 116.36,48.77 116.56,48.60 116.77,48.40 116.98,48.18 117.18,48.00 117.39,47.89 117.60,47.89 117.80,48.00 118.01,48.18 118.22,48.36 118.43,48.53 118.63,48.66 118.84,48.75 119.05,48.80 119.25,48.82 119.46,48.81 119.67,48.79 119.87,48.74 120.08,48.67 120.29,48.56 120.50,48.37 120.70,48.03 120.91,47.41 121.12,46.44 121.32,45.26 121.53,44.37 121.74,44.41 121.94,45.09 122.15,45.64 122.36,45.67 122.57,45.13 122.77,44.19 122.98,43.11 123.19,42.18 123.39,41.30 123.60,39.91 123.81,37.47 124.01,33.83 124.22,29.35 124.43,25.21 124.64,23.41 124.84,25.21 125.05,29.54 125.26,34.45 125.46,38.75 125.67,42.02 125.88,44.29 126.08,45.75 126.29,46.68 126.50,47.26 126.71,47.66 126.91,47.93 127.12,48.14 127.33,48.31 127.53,48.44 127.74,48.55 127.95,48.64 128.15,48.72 128.36,48.78 128.57,48.84 128.78,48.88 128.98,48.93 129.19,48.96 129.40,48.99 129.60,49.02 129.81,49.04 130.02,49.07 130.22,49.09 130.43,49.10 130.64,49.12 130.85,49.13 131.05,49.15 131.26,49.16 131.47,49.17 131.67,49.18 131.88,49.19 132.09,49.19 132.29,49.20 132.50,49.21 132.71,49.22 132.92,49.22 133.12,49.23 133.33,49.23 133.54,49.24 133.74,49.24 133.95,49.24 134.16,49.25 134.36,49.25 134.57,49.25 134.78,49.26 134.99,49.26 135.19,49.26 135.40,49.27 135.61,49.27 135.81,49.27 136.02,49.27 136.23,49.27 136.43,49.28 136.64,49.28 136.85,49.28 137.06,49.28 137.26,49.28 137.47,49.28 137.68,49.29 137.88,49.29 138.09,49.29 138.30,49.29 138.51,49.29 138.71,49.29 138.92,49.29 139.13,49.29 139.33,49.29 139.54,49.29 139.75,49.29 139.95,49.29 140.16,49.30 140.37,49.30 140.58,49.30 140.78,49.30 140.99,49.30 141.20,49.30 141.40,49.30 141.61,49.30 141.82,49.30 142.02,49.30 142.23,49.30 142.44,49.30 142.65,49.30 142.85,49.29 143.06,49.29 143.27,49.29 143.47,49.29 143.68,49.29 143.89,49.29 144.09,49.28 144.30,49.28 144.51,49.27 144.72,49.26 144.92,49.25 145.13,49.22 145.34,49.16 145.54,49.05 145.75,48.88 145.96,48.67 146.16,48.52 146.37,48.55 146.58,48.74 146.79,48.95 146.99,49.10 147.20,49.19 147.41,49.23 147.61,49.26 147.82,49.27 148.03,49.28 148.23,49.28 148.44,49.29 148.65,49.29 148.86,49.29 149.06,49.29 149.27,49.30 149.48,49.30 149.68,49.30 149.89,49.30 150.10,49.30 150.30,49.30 150.51,49.30 150.72,49.30 150.93,49.30 151.13,49.30 151.34,49.30 151.55,49.30 151.75,49.30 151.96,49.30 152.17,49.30 152.37,49.30 152.58,49.30 152.79,49.30 153.00,49.30 153.20,49.30 153.41,49.30 153.62,49.30 153.82,49.30 154.03,49.30 154.24,49.30 154.44,49.30 154.65,49.30 154.86,49.30 155.07,49.30 155.27,49.30 155.48,49.30 155.69,49.30 155.89,49.30 156.10,49.30 156.31,49.30 156.51,49.30 156.72,49.30 156.93,49.30 157.14,49.30 157.34,49.30 157.55,49.30 157.76,49.30 157.96,49.30 158.17,49.30 158.38,49.30 158.58,49.30 158.79,49.30 159.00,49.30 159.21,49.30 159.41,49.30 159.62,49.30 159.83,49.30 160.03,49.30 160.24,49.30 160.45,49.30 160.66,49.30 160.86,49.30 161.07,49.29 161.28,49.29 161.48,49.29 161.69,49.29 161.90,49.29 162.10,49.29 162.31,49.29 162.52,49.29 162.73,49.29 162.93,49.29 163.14,49.29 163.35,49.29 163.55,49.29 163.76,49.28 163.97,49.28 164.17,49.28 164.38,49.28 164.59,49.28 164.80,49.27 165.00,49.26 165.21,49.26 165.42,49.24 165.62,49.20 165.83,49.14 166.04,49.03 166.24,48.88 166.45,48.73 166.66,48.70 166.87,48.81 167.07,48.96 167.28,49.09 167.49,49.18 167.69,49.22 167.90,49.25 168.11,49.26 168.31,49.26 168.52,49.27 168.73,49.27 168.94,49.27 169.14,49.27 169.35,49.28 169.56,49.28 169.76,49.28 169.97,49.28 170.18,49.28 170.38,49.28 170.59,49.28 170.80,49.28 171.01,49.28 171.21,49.28 171.42,49.28 171.63,49.28 171.83,49.28 172.04,49.28 172.25,49.28 172.45,49.28 172.66,49.28 172.87,49.28 173.08,49.28 173.28,49.28 173.49,49.28 173.70,49.27 173.90,49.27 174.11,49.27 174.32,49.27 174.52,49.27 174.73,49.27 174.94,49.27 175.15,49.27 175.35,49.27 175.56,49.27 175.77,49.27 175.97,49.27 176.18,49.27 176.39,49.27 176.59,49.27 176.80,49.27 177.01,49.26 177.22,49.26 177.42,49.26 177.63,49.26 177.84,49.26 178.04,49.26 178.25,49.26 178.46,49.26 178.66,49.26 178.87,49.26 179.08,49.25 179.29,49.25 179.49,49.25 179.70,49.25 179.91,49.25 180.11,49.25 180.32,49.24 180.53,49.24 180.74,49.24 180.94,49.24 181.15,49.23 181.36,49.23 181.56,49.23 181.77,49.22 181.98,49.22 182.18,49.22 182.39,49.21 182.60,49.20 182.81,49.20 183.01,49.19 183.22,49.18 183.43,49.17 183.63,49.15 183.84,49.12 184.05,49.09 184.25,49.04 184.46,48.98 184.67,48.89 184.88,48.79 185.08,48.68 185.29,48.55 185.50,48.43 185.70,48.34 185.91,48.29 186.12,48.30 186.32,48.37 186.53,48.47 186.74,48.58 186.95,48.68 187.15,48.77 187.36,48.84 187.57,48.89 187.77,48.91 187.98,48.91 188.19,48.89 188.39,48.84 188.60,48.76 188.81,48.64 189.02,48.48 189.22,48.26 189.43,47.98 189.64,47.65 189.84,47.30 190.05,46.95 190.26,46.65 190.46,46.49 190.67,46.49 190.88,46.64 191.09,46.90 191.29,47.19 191.50,47.47 191.71,47.71 191.91,47.89 192.12,48.02 192.33,48.11 192.53,48.16 192.74,48.19 192.95,48.22 193.16,48.25 193.36,48.30 193.57,48.36 193.78,48.44 193.98,48.52 194.19,48.60 194.40,48.68 194.60,48.75 194.81,48.82 195.02,48.88 195.23,48.93 195.43,48.98 195.64,49.01 195.85,49.04 196.05,49.07 196.26,49.09 196.47,49.10 196.67,49.11 196.88,49.12 197.09,49.13 197.30,49.14 197.50,49.14 197.71,49.15 197.92,49.15 198.12,49.15 198.33,49.15 198.54,49.15 198.74,49.16 198.95,49.16 199.16,49.16 199.37,49.16 199.57,49.16 199.78,49.16 199.99,49.16 200.19,49.15 200.40,49.15 200.61,49.15 200.81,49.15 201.02,49.15 201.23,49.15 201.44,49.14 201.64,49.14 201.85,49.14 202.06,49.14 202.26,49.13 202.47,49.13 202.68,49.13 202.89,49.12 203.09,49.12 203.30,49.11 203.51,49.11 203.71,49.10 203.92,49.10 204.13,49.09 204.33,49.08 204.54,49.07 204.75,49.07 204.96,49.06 205.16,49.05 205.37,49.04 205.58,49.03 205.78,49.02 205.99,49.00 206.20,48.99 206.40,48.98 206.61,48.96 206.82,48.94 207.03,48.92 207.23,48.90 207.44,48.88 207.65,48.85 207.85,48.82 208.06,48.79 208.27,48.75 208.47,48.71 208.68,48.67 208.89,48.61 209.10,48.55 209.30,48.48 209.51,48.39 209.72,48.28 209.92,48.14 210.13,47.95 210.34,47.68 210.54,47.30 210.75,46.77 210.96,46.07 211.17,45.18 211.37,44.12 211.58,42.98 211.79,41.92 211.99,41.17 212.20,40.90 212.41,41.04 212.61,41.36 212.82,41.57 213.03,41.45 213.24,40.81 213.44,39.46 213.65,37.18 213.86,33.74 214.06,29.16 214.27,24.31 214.48,21.57 214.68,23.01 214.89,27.55 215.10,32.60 215.31,36.75 215.51,39.80 215.72,41.98 215.93,43.53 216.13,44.67 216.34,45.51 216.55,46.14 216.75,46.63 216.96,47.01 217.17,47.32 217.38,47.57 217.58,47.77 217.79,47.94 218.00,48.08 218.20,48.20 218.41,48.31 218.62,48.40 218.82,48.47 219.03,48.54 219.24,48.60 219.45,48.65 219.65,48.69 219.86,48.73 220.07,48.77 220.27,48.80 220.48,48.83 220.69,48.86 220.89,48.88 221.10,48.90 221.31,48.92 221.52,48.94 221.72,48.96 221.93,48.97 222.14,48.99 222.34,49.00 222.55,49.01 222.76,49.02 222.96,49.03 223.17,49.04 223.38,49.05 223.59,49.06 223.79,49.07 224.00,49.07 224.21,49.08 224.41,49.09 224.62,49.09 224.83,49.10 225.04,49.10 225.24,49.11 225.45,49.11 225.66,49.12 225.86,49.12 226.07,49.12 226.28,49.13 226.48,49.13 226.69,49.13 226.90,49.14 227.11,49.14 227.31,49.14 227.52,49.14 227.73,49.14 227.93,49.15 228.14,49.15 228.35,49.15 228.55,49.15 228.76,49.15 228.97,49.14 229.18,49.14 229.38,49.13 229.59,49.12 229.80,49.10 230.00,49.04 230.21,48.90 230.42,48.66 230.62,48.39 230.83,48.34 231.04,48.58 231.25,48.84 231.45,49.01 231.66,49.09 231.87,49.13 232.07,49.14 232.28,49.15 232.49,49.16 232.69,49.17 232.90,49.17 233.11,49.17 233.32,49.18 233.52,49.18 233.73,49.18 233.94,49.18 234.14,49.18 234.35,49.18 234.56,49.18 234.76,49.18 234.97,49.19 235.18,49.19 235.39,49.19 235.59,49.19 235.80,49.19 236.01,49.19 236.21,49.19 236.42,49.19 236.63,49.19 236.83,49.19 237.04,49.19 237.25,49.19 237.46,49.19 237.66,49.19 237.87,49.19 238.08,49.19 238.28,49.19 238.49,49.18 238.70,49.18 238.90,49.18 239.11,49.18 239.32,49.18 239.53,49.18 239.73,49.18 239.94,49.18 240.15,49.18 240.35,49.18 240.56,49.18 240.77,49.18 240.97,49.18 241.18,49.17 241.39,49.17 241.60,49.17 241.80,49.17 242.01,49.17 242.22,49.17 242.42,49.16 242.63,49.16 242.84,49.16 243.04,49.16 243.25,49.15 243.46,49.15 243.67,49.15 243.87,49.15 244.08,49.14 244.29,49.14 244.49,49.13 244.70,49.13 244.91,49.12 245.11,49.12 245.32,49.11 245.53,49.11 245.74,49.10 245.94,49.09 246.15,49.08 246.36,49.07 246.56,49.06 246.77,49.04 246.98,49.02 247.19,49.00 247.39,48.98 247.60,48.95 247.81,48.91 248.01,48.86 248.22,48.81 248.43,48.74 248.63,48.67 248.84,48.58 249.05,48.48 249.26,48.37 249.46,48.25 249.67,48.11 249.88,47.97 250.08,47.82 250.29,47.67 250.50,47.53 250.70,47.40 250.91,47.29 251.12,47.21 251.33,47.17 251.53,47.17 251.74,47.21 251.95,47.28 252.15,47.38 252.36,47.49 252.57,47.61 252.77,47.73 252.98,47.84 253.19,47.94 253.40,48.02 253.60,48.07 253.81,48.09 254.02,48.07 254.22,47.98 254.43,47.82 254.64,47.56 254.84,47.20 255.05,46.72 255.26,46.13 255.47,45.44 255.67,44.72 255.88,44.05 256.09,43.54 256.29,43.32 256.50,43.47 256.71,43.93 256.91,44.60 257.12,45.35 257.33,46.08 257.54,46.73 257.74,47.29 257.95,47.73 258.16,48.07 258.36,48.33 258.57,48.51 258.78,48.64 258.98,48.74 259.19,48.80 259.40,48.86 259.61,48.90 259.81,48.93 260.02,48.96 260.23,48.98 260.43,49.00 260.64,49.02 260.85,49.03 261.05,49.05 261.26,49.06 261.47,49.07 261.68,49.08 261.88,49.09 262.09,49.10 262.30,49.10 262.50,49.11 262.71,49.12 262.92,49.12 263.12,49.13 263.33,49.13 263.54,49.13 263.75,49.14 263.95,49.14 264.16,49.15 264.37,49.15 264.57,49.15 264.78,49.15 264.99,49.16 265.19,49.16 265.40,49.16 265.61,49.16 265.82,49.16 266.02,49.17 266.23,49.17 266.44,49.17 266.64,49.17 266.85,49.17 267.06,49.17 267.26,49.18 267.47,49.18 267.68,49.18 267.89,49.18 268.09,49.18 268.30,49.18 268.51,49.18 268.71,49.18 268.92,49.18 269.13,49.18 269.34,49.18 269.54,49.19 269.75,49.19 269.96,49.19 270.16,49.19 270.37,49.19 270.58,49.19 270.78,49.19 270.99,49.19 271.20,49.19 271.41,49.19 271.61,49.19 271.82,49.19 272.03,49.19 272.23,49.19 272.44,49.19 272.65,49.19 272.85,49.19 273.06,49.19 273.27,49.19 273.48,49.19 273.68,49.19 273.89,49.19 274.10,49.19 274.30,49.19 274.51,49.19 274.72,49.19 274.92,49.20 275.13,49.20 275.34,49.20 275.55,49.20 275.75,49.20 275.96,49.20 276.17,49.20 276.37,49.20 276.58,49.20 276.79,49.20 276.99,49.20 277.20,49.20 277.41,49.20 277.62,49.20 277.82,49.20 278.03,49.20 278.24,49.20 278.44,49.20 278.65,49.20 278.86,49.20 279.06,49.20 279.27,49.20 279.48,49.20 279.69,49.20 279.89,49.20 280.10,49.20 280.31,49.20 280.51,49.20 280.72,49.20 280.93,49.20 281.13,49.20 281.34,49.20 281.55,49.20 281.76,49.20 281.96,49.20 282.17,49.20 282.38,49.20 282.58,49.20 282.79,49.20 283.00,49.20 283.20,49.20 283.41,49.20 283.62,49.20 283.83,49.20 284.03,49.20 284.24,49.20 284.45,49.20 284.65,49.20 284.86,49.20 285.07,49.20 285.27,49.20 285.48,49.20 285.69,49.20 285.90,49.20 286.10,49.20 286.31,49.20 286.52,49.20 286.72,49.20 286.93,49.20 287.14,49.20 287.34,49.20 287.55,49.20 287.76,49.20 287.97,49.20 288.17,49.20 288.38,49.20 288.59,49.20 288.79,49.20 289.00,49.20 289.21,49.20 289.41,49.20 289.62,49.20 289.83,49.20 290.04,49.20 290.24,49.19 290.45,49.19 290.66,49.19 290.86,49.19 291.07,49.19 291.28,49.19 291.49,49.19 291.69,49.19 291.90,49.19 292.11,49.19 292.31,49.19 292.52,49.19 292.73,49.19 292.93,49.19 293.14,49.19 293.35,49.19 293.56,49.19 293.76,49.19 293.97,49.19 294.18,49.19 294.38,49.19 294.59,49.19 294.80,49.19 295.00,49.19 295.21,49.19 295.42,49.19 295.63,49.19 295.83,49.19 296.04,49.19 296.25,49.19 296.45,49.19 296.66,49.19 296.87,49.19 297.07,49.19 297.28,49.19 297.49,49.19 297.70,49.19 297.90,49.19 298.11,49.19 298.32,49.19 298.52,49.19 298.73,49.19 298.94,49.19 299.14,49.19 299.35,49.19 299.56,49.19 299.77,49.19 299.97,49.19 300.18,49.19 300.39,49.19 300.59,49.19 300.80,49.19 301.01,49.19 301.21,49.19 301.42,49.19 301.63,49.19 301.84,49.19 302.04,49.19 302.25,49.19 302.46,49.19 302.66,49.19 302.87,49.19 303.08,49.19 303.28,49.19 303.49,49.19 303.70,49.19 303.91,49.19 304.11,49.19 304.32,49.19 304.53,49.19 304.73,49.19 304.94,49.19 305.15,49.19 305.35,49.19 305.56,49.19 305.77,49.19 305.98,49.19 306.18,49.19 306.39,49.19 306.60,49.19 306.80,49.19 307.01,49.19 307.22,49.19 307.42,49.19 307.63,49.18 307.84,49.18 308.05,49.18 308.25,49.18 308.46,49.18 308.67,49.18"/>
<polyline fill="none" stroke="#000" stroke-width="1.80" stroke-linejoin="round" stroke-linecap="round" points="313.62,116.03 314.00,115.96 314.37,115.89 314.74,115.81 315.11,115.73 315.48,115.65 315.86,115.57 316.23,115.48 316.60,115.39 316.97,115.29 317.34,115.20 317.72,115.10 318.09,115.01 318.46,114.91 318.83,114.82 319.20,114.73 319.58,114.64 319.95,114.56 320.32,114.49 320.69,114.43 321.06,114.38 321.44,114.34 321.81,114.31 322.18,114.29 322.55,114.29 322.92,114.30 323.30,114.33 323.67,114.37 324.04,114.41 324.41,114.47 324.78,114.54 325.16,114.61 325.53,114.69 325.90,114.77 326.27,114.86 326.64,114.94 327.02,115.03 327.39,115.12 327.76,115.20 328.13,115.29 328.50,115.37 328.87,115.45 329.25,115.52 329.62,115.59 329.99,115.66 330.36,115.72 330.73,115.78 331.11,115.83 331.48,115.88 331.85,115.93 332.22,115.97 332.59,116.01 332.97,116.04 333.34,116.07 333.71,116.09 334.08,116.11 334.45,116.13 334.83,116.15 335.20,116.16 335.57,116.16 335.94,116.17 336.31,116.17 336.69,116.17 337.06,116.17 337.43,116.16 337.80,116.15 338.17,116.14 338.55,116.13 338.92,116.11 339.29,116.09 339.66,116.07 340.03,116.05 340.41,116.02 340.78,115.99 341.15,115.96 341.52,115.92 341.89,115.87 342.27,115.82 342.64,115.77 343.01,115.70 343.38,115.62 343.75,115.53 344.13,115.42 344.50,115.29 344.87,115.13 345.24,114.94 345.61,114.71 345.99,114.43 346.36,114.09 346.73,113.69 347.10,113.22 347.47,112.68 347.85,112.07 348.22,111.38 348.59,110.62 348.96,109.81 349.33,108.96 349.71,108.09 350.08,107.25 350.45,106.48 350.82,105.82 351.19,105.34 351.57,105.07 351.94,105.04 352.31,105.24 352.68,105.64 353.05,106.20 353.43,106.85 353.80,107.55 354.17,108.24 354.54,108.89 354.91,109.48 355.29,109.99 355.66,110.39 356.03,110.69 356.40,110.88 356.77,110.96 357.14,110.94 357.52,110.81 357.89,110.58 358.26,110.26 358.63,109.85 359.00,109.38 359.38,108.83 359.75,108.24 360.12,107.60 360.49,106.94 360.86,106.26 361.24,105.59 361.61,104.95 361.98,104.35 362.35,103.84 362.72,103.41 363.10,103.10 363.47,102.91 363.84,102.85 364.21,102.90 364.58,103.04 364.96,103.26 365.33,103.52 365.70,103.81 366.07,104.09 366.44,104.35 366.82,104.56 367.19,104.71 367.56,104.79 367.93,104.80 368.30,104.72 368.68,104.56 369.05,104.32 369.42,103.99 369.79,103.60 370.16,103.13 370.54,102.61 370.91,102.06 371.28,101.48 371.65,100.90 372.02,100.35 372.40,99.85 372.77,99.43 373.14,99.12 373.51,98.92 373.88,98.87 374.26,98.96 374.63,99.20 375.00,99.57 375.37,100.06 375.74,100.66 376.12,101.33 376.49,102.06 376.86,102.83 377.23,103.61 377.60,104.39 377.98,105.16 378.35,105.90 378.72,106.62 379.09,107.30 379.46,107.94 379.84,108.54 380.21,109.10 380.58,109.61 380.95,110.08 381.32,110.50 381.70,110.89 382.07,111.24 382.44,111.56 382.81,111.85 383.18,112.11 383.55,112.34 383.93,112.56 384.30,112.75 384.67,112.94 385.04,113.10 385.41,113.26 385.79,113.41 386.16,113.55 386.53,113.69 386.90,113.82 387.27,113.94 387.65,114.06 388.02,114.18 388.39,114.30 388.76,114.41 389.13,114.52 389.51,114.62 389.88,114.72 390.25,114.82 390.62,114.92 390.99,115.01 391.37,115.10 391.74,115.19 392.11,115.27 392.48,115.35 392.85,115.42 393.23,115.50 393.60,115.57 393.97,115.63 394.34,115.69 394.71,115.75 395.09,115.81 395.46,115.86 395.83,115.91 396.20,115.96 396.57,116.01 396.95,116.05 397.32,116.09 397.69,116.13 398.06,116.16 398.43,116.20 398.81,116.23 399.18,116.26 399.55,116.28 399.92,116.31 400.29,116.33 400.67,116.36 401.04,116.38 401.41,116.40 401.78,116.42 402.15,116.44 402.53,116.45 402.90,116.47 403.27,116.48 403.64,116.50 404.01,116.51 404.39,116.52 404.76,116.54 405.13,116.55 405.50,116.56 405.87,116.57 406.25,116.58 406.62,116.59 406.99,116.60 407.36,116.61 407.73,116.62 408.11,116.62 408.48,116.63 408.85,116.64 409.22,116.65 409.59,116.65 409.97,116.66 410.34,116.67 410.71,116.67 411.08,116.68 411.45,116.69 411.82,116.69 412.20,116.70 412.57,116.70 412.94,116.71 413.31,116.71 413.68,116.72 414.06,116.72 414.43,116.73 414.80,116.73 415.17,116.74 415.54,116.74 415.92,116.75 416.29,116.75 416.66,116.75 417.03,116.76 417.40,116.76 417.78,116.77 418.15,116.77 418.52,116.77 418.89,116.78 419.26,116.78 419.64,116.78 420.01,116.79 420.38,116.79 420.75,116.79 421.12,116.80 421.50,116.80 421.87,116.80 422.24,116.80 422.61,116.81 422.98,116.81 423.36,116.81 423.73,116.82 424.10,116.82 424.47,116.82 424.84,116.82 425.22,116.83"/>
<polyline fill="none" stroke="#ff0000" stroke-width="1.80" stroke-linejoin="round" stroke-linecap="round" points="313.62,95.90 314.00,95.86 314.37,95.82 314.74,95.77 315.11,95.72 315.48,95.67 315.86,95.62 316.23,95.56 316.60,95.51 316.97,95.45 317.34,95.39 317.72,95.33 318.09,95.27 318.46,95.21 318.83,95.15 319.20,95.09 319.58,95.04 319.95,94.99 320.32,94.94 320.69,94.90 321.06,94.87 321.44,94.84 321.81,94.82 322.18,94.81 322.55,94.81 322.92,94.82 323.30,94.83 323.67,94.85 324.04,94.88 324.41,94.91 324.78,94.95 325.16,95.00 325.53,95.04 325.90,95.09 326.27,95.14 326.64,95.19 327.02,95.24 327.39,95.29 327.76,95.34 328.13,95.39 328.50,95.44 328.87,95.49 329.25,95.53 329.62,95.57 329.99,95.61 330.36,95.64 330.73,95.67 331.11,95.70 331.48,95.73 331.85,95.75 332.22,95.77 332.59,95.79 332.97,95.81 333.34,95.82 333.71,95.83 334.08,95.84 334.45,95.85 334.83,95.85 335.20,95.86 335.57,95.86 335.94,95.85 336.31,95.85 336.69,95.85 337.06,95.84 337.43,95.83 337.80,95.82 338.17,95.81 338.55,95.80 338.92,95.78 339.29,95.77 339.66,95.75 340.03,95.73 340.41,95.71 340.78,95.68 341.15,95.66 341.52,95.63 341.89,95.59 342.27,95.56 342.64,95.52 343.01,95.47 343.38,95.42 343.75,95.36 344.13,95.29 344.50,95.21 344.87,95.11 345.24,95.00 345.61,94.87 345.99,94.72 346.36,94.55 346.73,94.36 347.10,94.13 347.47,93.88 347.85,93.60 348.22,93.29 348.59,92.96 348.96,92.59 349.33,92.21 349.71,91.82 350.08,91.41 350.45,91.01 350.82,90.63 351.19,90.29 351.57,89.99 351.94,89.76 352.31,89.61 352.68,89.55 353.05,89.57 353.43,89.66 353.80,89.81 354.17,90.00 354.54,90.21 354.91,90.42 355.29,90.62 355.66,90.79 356.03,90.93 356.40,91.03 356.77,91.07 357.14,91.06 357.52,91.00 357.89,90.88 358.26,90.71 358.63,90.48 359.00,90.19 359.38,89.86 359.75,89.48 360.12,89.06 360.49,88.61 360.86,88.13 361.24,87.64 361.61,87.13 361.98,86.63 362.35,86.15 362.72,85.69 363.10,85.26 363.47,84.87 363.84,84.53 364.21,84.24 364.58,83.98 364.96,83.76 365.33,83.55 365.70,83.34 366.07,83.12 366.44,82.87 366.82,82.59 367.19,82.26 367.56,81.87 367.93,81.43 368.30,80.92 368.68,80.35 369.05,79.73 369.42,79.04 369.79,78.31 370.16,77.55 370.54,76.75 370.91,75.96 371.28,75.17 371.65,74.42 372.02,73.72 372.40,73.11 372.77,72.61 373.14,72.25 373.51,72.04 373.88,72.00 374.26,72.13 374.63,72.43 375.00,72.90 375.37,73.52 375.74,74.26 376.12,75.11 376.49,76.05 376.86,77.04 377.23,78.08 377.60,79.13 377.98,80.19 378.35,81.23 378.72,82.26 379.09,83.25 379.46,84.20 379.84,85.11 380.21,85.98 380.58,86.79 380.95,87.56 381.32,88.27 381.70,88.93 382.07,89.54 382.44,90.11 382.81,90.62 383.18,91.09 383.55,91.52 383.93,91.91 384.30,92.26 384.67,92.58 385.04,92.87 385.41,93.12 385.79,93.36 386.16,93.56 386.53,93.75 386.90,93.92 387.27,94.08 387.65,94.21 388.02,94.34 388.39,94.45 388.76,94.56 389.13,94.65 389.51,94.74 389.88,94.82 390.25,94.89 390.62,94.96 390.99,95.03 391.37,95.09 391.74,95.14 392.11,95.19 392.48,95.24 392.85,95.29 393.23,95.33 393.60,95.37 393.97,95.41 394.34,95.45 394.71,95.49 395.09,95.52 395.46,95.55 395.83,95.58 396.20,95.61 396.57,95.64 396.95,95.67 397.32,95.69 397.69,95.72 398.06,95.74 398.43,95.76 398.81,95.78 399.18,95.80 399.55,95.82 399.92,95.84 400.29,95.86 400.67,95.88 401.04,95.90 401.41,95.91 401.78,95.93 402.15,95.94 402.53,95.96 402.90,95.97 403.27,95.98 403.64,96.00 404.01,96.01 404.39,96.02 404.76,96.03 405.13,96.05 405.50,96.06 405.87,96.07 406.25,96.08 406.62,96.09 406.99,96.10 407.36,96.11 407.73,96.12 408.11,96.12 408.48,96.13 408.85,96.14 409.22,96.15 409.59,96.16 409.97,96.17 410.34,96.17 410.71,96.18 411.08,96.19 411.45,96.19 411.82,96.20 412.20,96.21 412.57,96.21 412.94,96.22 413.31,96.22 413.68,96.23 414.06,96.24 414.43,96.24 414.80,96.25 415.17,96.25 415.54,96.26 415.92,96.26 416.29,96.27 416.66,96.27 417.03,96.28 417.40,96.28 417.78,96.28 418.15,96.29 418.52,96.29 418.89,96.30 419.26,96.30 419.64,96.30 420.01,96.31 420.38,96.31 420.75,96.32 421.12,96.32 421.50,96.32 421.87,96.33 422.24,96.33 422.61,96.33 422.98,96.34 423.36,96.34 423.73,96.34 424.10,96.34 424.47,96.35 424.84,96.35 425.22,96.35"/>
<polyline fill="none" stroke="#00ff00" stroke-width="1.80" stroke-linejoin="round" stroke-linecap="round" points="313.62,70.28 314.00,70.24 314.37,70.20 314.74,70.15 315.11,70.10 315.48,70.05 315.86,70.00 316.23,69.94 316.60,69.89 316.97,69.83 317.34,69.77 317.72,69.71 318.09,69.65 318.46,69.59 318.83,69.53 319.20,69.48 319.58,69.42 319.95,69.37 320.32,69.33 320.69,69.29 321.06,69.25 321.44,69.23 321.81,69.21 322.18,69.20 322.55,69.20 322.92,69.20 323.30,69.22 323.67,69.24 324.04,69.27 324.41,69.31 324.78,69.35 325.16,69.39 325.53,69.44 325.90,69.49 326.27,69.54 326.64,69.59 327.02,69.65 327.39,69.70 327.76,69.75 328.13,69.80 328.50,69.85 328.87,69.90 329.25,69.94 329.62,69.98 329.99,70.02 330.36,70.06 330.73,70.09 331.11,70.12 331.48,70.15 331.85,70.18 332.22,70.20 332.59,70.22 332.97,70.24 333.34,70.26 333.71,70.27 334.08,70.28 334.45,70.29 334.83,70.30 335.20,70.30 335.57,70.31 335.94,70.31 336.31,70.31 336.69,70.31 337.06,70.30 337.43,70.30 337.80,70.29 338.17,70.29 338.55,70.28 338.92,70.27 339.29,70.25 339.66,70.24 340.03,70.23 340.41,70.21 340.78,70.20 341.15,70.18 341.52,70.16 341.89,70.13 342.27,70.11 342.64,70.08 343.01,70.05 343.38,70.01 343.75,69.97 344.13,69.92 344.50,69.87 344.87,69.81 345.24,69.74 345.61,69.65 345.99,69.55 346.36,69.44 346.73,69.31 347.10,69.15 347.47,68.98 347.85,68.78 348.22,68.55 348.59,68.30 348.96,68.02 349.33,67.71 349.71,67.39 350.08,67.04 350.45,66.68 350.82,66.32 351.19,65.95 351.57,65.61 351.94,65.30 352.31,65.03 352.68,64.82 353.05,64.69 353.43,64.64 353.80,64.66 354.17,64.75 354.54,64.89 354.91,65.08 355.29,65.28 355.66,65.49 356.03,65.69 356.40,65.87 356.77,66.02 357.14,66.13 357.52,66.20 357.89,66.23 358.26,66.21 358.63,66.15 359.00,66.04 359.38,65.88 359.75,65.68 360.12,65.45 360.49,65.18 360.86,64.89 361.24,64.57 361.61,64.23 361.98,63.88 362.35,63.54 362.72,63.20 363.10,62.87 363.47,62.57 363.84,62.30 364.21,62.06 364.58,61.84 364.96,61.65 365.33,61.48 365.70,61.32 366.07,61.15 366.44,60.97 366.82,60.77 367.19,60.53 367.56,60.26 367.93,59.94 368.30,59.57 368.68,59.14 369.05,58.66 369.42,58.12 369.79,57.53 370.16,56.90 370.54,56.22 370.91,55.51 371.28,54.77 371.65,54.03 372.02,53.29 372.40,52.58 372.77,51.90 373.14,51.30 373.51,50.78 373.88,50.37 374.26,50.09 374.63,49.96 375.00,49.97 375.37,50.13 375.74,50.45 376.12,50.90 376.49,51.47 376.86,52.15 377.23,52.91 377.60,53.73 377.98,54.60 378.35,55.50 378.72,56.40 379.09,57.30 379.46,58.19 379.84,59.06 380.21,59.89 380.58,60.70 380.95,61.46 381.32,62.18 381.70,62.86 382.07,63.50 382.44,64.09 382.81,64.63 383.18,65.14 383.55,65.60 383.93,66.03 384.30,66.41 384.67,66.76 385.04,67.08 385.41,67.37 385.79,67.63 386.16,67.86 386.53,68.07 386.90,68.26 387.27,68.43 387.65,68.59 388.02,68.72 388.39,68.85 388.76,68.96 389.13,69.06 389.51,69.16 389.88,69.24 390.25,69.32 390.62,69.39 390.99,69.46 391.37,69.52 391.74,69.58 392.11,69.63 392.48,69.68 392.85,69.72 393.23,69.77 393.60,69.81 393.97,69.85 394.34,69.88 394.71,69.92 395.09,69.95 395.46,69.98 395.83,70.01 396.20,70.04 396.57,70.06 396.95,70.09 397.32,70.11 397.69,70.14 398.06,70.16 398.43,70.18 398.81,70.20 399.18,70.22 399.55,70.24 399.92,70.26 400.29,70.27 400.67,70.29 401.04,70.31 401.41,70.32 401.78,70.34 402.15,70.35 402.53,70.36 402.90,70.38 403.27,70.39 403.64,70.40 404.01,70.41 404.39,70.43 404.76,70.44 405.13,70.45 405.50,70.46 405.87,70.47 406.25,70.48 406.62,70.49 406.99,70.49 407.36,70.50 407.73,70.51 408.11,70.52 408.48,70.53 408.85,70.54 409.22,70.54 409.59,70.55 409.97,70.56 410.34,70.56 410.71,70.57 411.08,70.58 411.45,70.58 411.82,70.59 412.20,70.59 412.57,70.60 412.94,70.61 413.31,70.61 413.68,70.62 414.06,70.62 414.43,70.63 414.80,70.63 415.17,70.64 415.54,70.64 415.92,70.64 416.29,70.65 416.66,70.65 417.03,70.66 417.40,70.66 417.78,70.67 418.15,70.67 418.52,70.67 418.89,70.68 419.26,70.68 419.64,70.68 420.01,70.69 420.38,70.69 420.75,70.69 421.12,70.70 421.50,70.70 421.87,70.70 422.24,70.71 422.61,70.71 422.98,70.71 423.36,70.71 423.73,70.72 424.10,70.72 424.47,70.72 424.84,70.72 425.22,70.73"/>
<polyline fill="none" stroke="#0000ff" stroke-width="1.80" stroke-linejoin="round" stroke-linecap="round" points="313.62,48.45 314.00,48.41 314.37,48.37 314.74,48.33 315.11,48.29 315.48,48.25 315.86,48.20 316.23,48.15 316.60,48.10 316.97,48.05 317.34,48.00 317.72,47.95 318.09,47.90 318.46,47.85 318.83,47.80 319.20,47.75 319.58,47.70 319.95,47.66 320.32,47.62 320.69,47.58 321.06,47.55 321.44,47.53 321.81,47.51 322.18,47.51 322.55,47.50 322.92,47.51 323.30,47.52 323.67,47.54 324.04,47.57 324.41,47.60 324.78,47.63 325.16,47.67 325.53,47.71 325.90,47.75 326.27,47.80 326.64,47.84 327.02,47.89 327.39,47.94 327.76,47.98 328.13,48.02 328.50,48.06 328.87,48.11 329.25,48.14 329.62,48.18 329.99,48.21 330.36,48.25 330.73,48.27 331.11,48.30 331.48,48.33 331.85,48.35 332.22,48.37 332.59,48.39 332.97,48.40 333.34,48.41 333.71,48.43 334.08,48.43 334.45,48.44 334.83,48.45 335.20,48.45 335.57,48.45 335.94,48.45 336.31,48.45 336.69,48.45 337.06,48.45 337.43,48.44 337.80,48.44 338.17,48.43 338.55,48.42 338.92,48.41 339.29,48.40 339.66,48.39 340.03,48.38 340.41,48.37 340.78,48.35 341.15,48.33 341.52,48.31 341.89,48.29 342.27,48.27 342.64,48.24 343.01,48.21 343.38,48.18 343.75,48.14 344.13,48.10 344.50,48.05 344.87,47.99 345.24,47.92 345.61,47.84 345.99,47.75 346.36,47.64 346.73,47.52 347.10,47.37 347.47,47.21 347.85,47.03 348.22,46.82 348.59,46.60 348.96,46.35 349.33,46.09 349.71,45.81 350.08,45.53 350.45,45.23 350.82,44.94 351.19,44.67 351.57,44.42 351.94,44.21 352.31,44.05 352.68,43.94 353.05,43.90 353.43,43.93 353.80,44.01 354.17,44.13 354.54,44.29 354.91,44.46 355.29,44.64 355.66,44.81 356.03,44.97 356.40,45.11 356.77,45.22 357.14,45.30 357.52,45.35 357.89,45.37 358.26,45.35 358.63,45.29 359.00,45.20 359.38,45.08 359.75,44.93 360.12,44.75 360.49,44.55 360.86,44.32 361.24,44.08 361.61,43.83 361.98,43.57 362.35,43.30 362.72,43.04 363.10,42.78 363.47,42.53 363.84,42.30 364.21,42.08 364.58,41.87 364.96,41.67 365.33,41.47 365.70,41.26 366.07,41.03 366.44,40.78 366.82,40.49 367.19,40.15 367.56,39.76 367.93,39.31 368.30,38.79 368.68,38.21 369.05,37.55 369.42,36.82 369.79,36.01 370.16,35.14 370.54,34.20 370.91,33.20 371.28,32.15 371.65,31.06 372.02,29.94 372.40,28.82 372.77,27.73 373.14,26.67 373.51,25.70 373.88,24.83 374.26,24.10 374.63,23.55 375.00,23.19 375.37,23.06 375.74,23.14 376.12,23.45 376.49,23.98 376.86,24.68 377.23,25.55 377.60,26.54 377.98,27.64 378.35,28.79 378.72,29.99 379.09,31.19 379.46,32.39 379.84,33.57 380.21,34.72 380.58,35.82 380.95,36.86 381.32,37.85 381.70,38.78 382.07,39.65 382.44,40.45 382.81,41.19 383.18,41.87 383.55,42.49 383.93,43.05 384.30,43.56 384.67,44.01 385.04,44.43 385.41,44.79 385.79,45.12 386.16,45.42 386.53,45.68 386.90,45.92 387.27,46.13 387.65,46.31 388.02,46.48 388.39,46.63 388.76,46.77 389.13,46.89 389.51,47.00 389.88,47.10 390.25,47.19 390.62,47.28 390.99,47.36 391.37,47.43 391.74,47.49 392.11,47.56 392.48,47.61 392.85,47.67 393.23,47.72 393.60,47.77 393.97,47.81 394.34,47.85 394.71,47.89 395.09,47.93 395.46,47.97 395.83,48.00 396.20,48.04 396.57,48.07 396.95,48.10 397.32,48.12 397.69,48.15 398.06,48.18 398.43,48.20 398.81,48.23 399.18,48.25 399.55,48.27 399.92,48.29 400.29,48.31 400.67,48.33 401.04,48.35 401.41,48.36 401.78,48.38 402.15,48.40 402.53,48.41 402.90,48.43 403.27,48.44 403.64,48.46 404.01,48.47 404.39,48.48 404.76,48.49 405.13,48.51 405.50,48.52 405.87,48.53 406.25,48.54 406.62,48.55 406.99,48.56 407.36,48.57 407.73,48.58 408.11,48.59 408.48,48.60 408.85,48.61 409.22,48.61 409.59,48.62 409.97,48.63 410.34,48.64 410.71,48.64 411.08,48.65 411.45,48.66 411.82,48.66 412.20,48.67 412.57,48.68 412.94,48.68 413.31,48.69 413.68,48.69 414.06,48.70 414.43,48.71 414.80,48.71 415.17,48.72 415.54,48.72 415.92,48.73 416.29,48.73 416.66,48.74 417.03,48.74 417.40,48.74 417.78,48.75 418.15,48.75 418.52,48.76 418.89,48.76 419.26,48.76 419.64,48.77 420.01,48.77 420.38,48.78 420.75,48.78 421.12,48.78 421.50,48.79 421.87,48.79 422.24,48.79 422.61,48.80 422.98,48.80 423.36,48.80 423.73,48.80 424.10,48.81 424.47,48.81 424.84,48.81 425.22,48.82"/>
<polyline fill="none" stroke="#000" stroke-width="1.80" stroke-linejoin="round" stroke-linecap="round" points="430.62,116.56 430.89,116.55 431.17,116.54 431.45,116.53 431.73,116.52 432.00,116.51 432.28,116.50 432.56,116.49 432.84,116.47 433.11,116.46 433.39,116.44 433.67,116.43 433.94,116.41 434.22,116.39 434.50,116.37 434.78,116.34 435.05,116.31 435.33,116.28 435.61,116.25 435.89,116.22 436.16,116.18 436.44,116.13 436.72,116.08 437.00,116.03 437.27,115.97 437.55,115.91 437.83,115.84 438.11,115.77 438.38,115.70 438.66,115.61 438.94,115.53 439.21,115.43 439.49,115.34 439.77,115.23 440.05,115.13 440.32,115.02 440.60,114.91 440.88,114.79 441.16,114.68 441.43,114.56 441.71,114.45 441.99,114.34 442.27,114.23 442.54,114.12 442.82,114.01 443.10,113.90 443.38,113.79 443.65,113.66 443.93,113.52 444.21,113.35 444.48,113.15 444.76,112.89 445.04,112.54 445.32,112.10 445.59,111.51 445.87,110.75 446.15,109.77 446.43,108.55 446.70,107.06 446.98,105.32 447.26,103.43 447.54,101.57 447.81,100.09 448.09,99.35 448.37,99.53 448.65,100.48 448.92,101.82 449.20,103.17 449.48,104.27 449.75,104.99 450.03,105.26 450.31,105.08 450.59,104.45 450.86,103.41 451.14,102.05 451.42,100.49 451.70,98.98 451.97,97.82 452.25,97.35 452.53,97.75 452.81,98.97 453.08,100.75 453.36,102.76 453.64,104.77 453.91,106.61 454.19,108.23 454.47,109.61 454.75,110.76 455.02,111.70 455.30,112.46 455.58,113.07 455.86,113.56 456.13,113.96 456.41,114.28 456.69,114.55 456.97,114.77 457.24,114.96 457.52,115.12 457.80,115.26 458.08,115.38 458.35,115.49 458.63,115.59 458.91,115.67 459.18,115.75 459.46,115.82 459.74,115.88 460.02,115.93 460.29,115.99 460.57,116.03 460.85,116.07 461.13,116.11 461.40,116.15 461.68,116.18 461.96,116.21 462.24,116.24 462.51,116.27 462.79,116.29 463.07,116.31 463.35,116.33 463.62,116.35 463.90,116.37 464.18,116.39 464.45,116.41 464.73,116.42 465.01,116.43 465.29,116.45 465.56,116.46 465.84,116.47 466.12,116.48 466.40,116.49 466.67,116.50 466.95,116.51 467.23,116.52 467.51,116.53 467.78,116.54 468.06,116.55 468.34,116.56 468.62,116.56 468.89,116.57 469.17,116.58 469.45,116.58 469.72,116.59 470.00,116.59 470.28,116.60 470.56,116.60 470.83,116.61 471.11,116.61 471.39,116.62 471.67,116.62 471.94,116.63 472.22,116.63 472.50,116.63 472.78,116.64 473.05,116.64 473.33,116.64 473.61,116.65 473.89,116.65 474.16,116.65 474.44,116.66 474.72,116.66 474.99,116.66 475.27,116.66 475.55,116.67 475.83,116.67 476.10,116.67 476.38,116.67 476.66,116.68 476.94,116.68 477.21,116.68 477.49,116.68 477.77,116.68 478.05,116.69 478.32,116.69 478.60,116.69 478.88,116.69 479.16,116.69 479.43,116.69 479.71,116.70 479.99,116.70 480.26,116.70 480.54,116.70 480.82,116.70 481.10,116.70 481.37,116.70 481.65,116.70 481.93,116.71 482.21,116.71 482.48,116.71 482.76,116.71 483.04,116.71 483.32,116.71 483.59,116.71 483.87,116.71 484.15,116.71 484.43,116.71 484.70,116.71 484.98,116.72 485.26,116.72 485.53,116.72 485.81,116.72 486.09,116.72 486.37,116.72 486.64,116.72 486.92,116.72 487.20,116.72 487.48,116.72 487.75,116.72 488.03,116.72 488.31,116.72 488.59,116.72 488.86,116.72 489.14,116.72 489.42,116.72 489.70,116.72 489.97,116.72 490.25,116.72 490.53,116.72 490.80,116.72 491.08,116.72 491.36,116.72 491.64,116.73 491.91,116.73 492.19,116.73 492.47,116.73 492.75,116.73 493.02,116.73 493.30,116.73 493.58,116.73 493.86,116.73 494.13,116.73 494.41,116.72 494.69,116.72 494.97,116.72 495.24,116.72 495.52,116.72 495.80,116.72 496.07,116.72 496.35,116.72 496.63,116.72 496.91,116.72 497.18,116.72 497.46,116.72 497.74,116.72 498.02,116.72 498.29,116.72 498.57,116.72 498.85,116.72 499.13,116.72 499.40,116.72 499.68,116.72 499.96,116.72 500.24,116.72 500.51,116.71 500.79,116.71 501.07,116.71 501.34,116.71 501.62,116.71 501.90,116.71 502.18,116.71 502.45,116.71 502.73,116.71 503.01,116.70 503.29,116.70 503.56,116.70 503.84,116.70 504.12,116.70 504.40,116.70 504.67,116.70 504.95,116.69 505.23,116.69 505.50,116.69 505.78,116.69 506.06,116.68 506.34,116.68 506.61,116.68 506.89,116.68 507.17,116.67 507.45,116.67 507.72,116.67 508.00,116.67 508.28,116.66 508.56,116.66 508.83,116.65 509.11,116.65 509.39,116.65 509.67,116.64 509.94,116.64 510.22,116.63 510.50,116.63 510.77,116.62 511.05,116.61 511.33,116.61 511.61,116.60 511.88,116.59 512.16,116.58 512.44,116.58 512.72,116.57 512.99,116.55 513.27,116.54 513.55,116.53 513.83,116.51 514.10,116.50 514.38,116.48 514.66,116.45 514.94,116.43 515.21,116.39 515.49,116.36 515.77,116.31 516.04,116.26 516.32,116.20 516.60,116.13 516.88,116.05 517.15,115.97 517.43,115.86 517.71,115.75 517.99,115.63 518.26,115.50 518.54,115.37 518.82,115.23 519.10,115.08 519.37,114.95 519.65,114.82 519.93,114.70 520.21,114.59 520.48,114.50 520.76,114.42 521.04,114.34 521.31,114.27 521.59,114.18 521.87,114.09 522.15,113.98 522.42,113.86 522.70,113.73 522.98,113.60 523.26,113.45 523.53,113.30 523.81,113.16 524.09,113.03 524.37,112.92 524.64,112.84 524.92,112.78 525.20,112.77 525.48,112.79 525.75,112.85 526.03,112.94 526.31,113.05 526.58,113.18 526.86,113.31 527.14,113.45 527.42,113.57 527.69,113.69 527.97,113.79 528.25,113.86 528.53,113.91 528.80,113.93 529.08,113.93 529.36,113.89 529.64,113.83 529.91,113.75 530.19,113.64 530.47,113.52 530.75,113.39 531.02,113.25 531.30,113.13 531.58,113.02 531.85,112.93 532.13,112.88 532.41,112.88 532.69,112.92 532.96,113.01 533.24,113.14 533.52,113.31 533.80,113.50 534.07,113.71 534.35,113.93 534.63,114.15 534.91,114.36 535.18,114.57 535.46,114.76 535.74,114.94 536.02,115.10 536.29,115.24 536.57,115.36 536.85,115.47 537.12,115.56 537.40,115.63 537.68,115.69 537.96,115.74 538.23,115.78 538.51,115.81 538.79,115.84 539.07,115.86 539.34,115.89 539.62,115.92 539.90,115.95 540.18,115.98 540.45,116.02 540.73,116.06 541.01,116.10 541.29,116.15 541.56,116.19"/>
<polyline fill="none" stroke="#ff0000" stroke-width="1.80" stroke-linejoin="round" stroke-linecap="round" points="430.62,95.66 430.89,95.65 431.17,95.65 431.45,95.64 431.73,95.64 432.00,95.63 432.28,95.63 432.56,95.62 432.84,95.61 433.11,95.61 433.39,95.60 433.67,95.59 433.94,95.58 434.22,95.57 434.50,95.56 434.78,95.55 435.05,95.54 435.33,95.53 435.61,95.52 435.89,95.51 436.16,95.49 436.44,95.48 436.72,95.46 437.00,95.45 437.27,95.43 437.55,95.41 437.83,95.39 438.11,95.37 438.38,95.34 438.66,95.32 438.94,95.29 439.21,95.26 439.49,95.23 439.77,95.20 440.05,95.16 440.32,95.12 440.60,95.07 440.88,95.03 441.16,94.97 441.43,94.92 441.71,94.85 441.99,94.78 442.27,94.70 442.54,94.61 442.82,94.50 443.10,94.38 443.38,94.23 443.65,94.04 443.93,93.82 444.21,93.54 444.48,93.19 444.76,92.77 445.04,92.25 445.32,91.63 445.59,90.90 445.87,90.07 446.15,89.15 446.43,88.15 446.70,87.12 446.98,86.11 447.26,85.19 447.54,84.45 447.81,83.92 448.09,83.60 448.37,83.43 448.65,83.31 448.92,83.15 449.20,82.85 449.48,82.36 449.75,81.63 450.03,80.65 450.31,79.43 450.59,77.99 450.86,76.40 451.14,74.76 451.42,73.19 451.70,71.85 451.97,70.93 452.25,70.55 452.53,70.80 452.81,71.66 453.08,73.03 453.36,74.75 453.64,76.67 453.91,78.66 454.19,80.61 454.47,82.45 454.75,84.15 455.02,85.69 455.30,87.06 455.58,88.25 455.86,89.28 456.13,90.16 456.41,90.91 456.69,91.55 456.97,92.08 457.24,92.52 457.52,92.90 457.80,93.21 458.08,93.48 458.35,93.71 458.63,93.91 458.91,94.08 459.18,94.23 459.46,94.36 459.74,94.48 460.02,94.59 460.29,94.69 460.57,94.77 460.85,94.85 461.13,94.93 461.40,95.00 461.68,95.06 461.96,95.12 462.24,95.17 462.51,95.22 462.79,95.26 463.07,95.31 463.35,95.35 463.62,95.38 463.90,95.42 464.18,95.45 464.45,95.48 464.73,95.51 465.01,95.54 465.29,95.57 465.56,95.59 465.84,95.61 466.12,95.64 466.40,95.66 466.67,95.68 466.95,95.70 467.23,95.71 467.51,95.73 467.78,95.75 468.06,95.76 468.34,95.78 468.62,95.79 468.89,95.81 469.17,95.82 469.45,95.83 469.72,95.84 470.00,95.86 470.28,95.87 470.56,95.88 470.83,95.89 471.11,95.90 471.39,95.91 471.67,95.92 471.94,95.93 472.22,95.93 472.50,95.94 472.78,95.95 473.05,95.96 473.33,95.97 473.61,95.97 473.89,95.98 474.16,95.99 474.44,96.00 474.72,96.00 474.99,96.01 475.27,96.01 475.55,96.02 475.83,96.03 476.10,96.03 476.38,96.04 476.66,96.04 476.94,96.05 477.21,96.05 477.49,96.06 477.77,96.06 478.05,96.07 478.32,96.07 478.60,96.08 478.88,96.08 479.16,96.08 479.43,96.09 479.71,96.09 479.99,96.09 480.26,96.09 480.54,96.10 480.82,96.10 481.10,96.10 481.37,96.09 481.65,96.09 481.93,96.07 482.21,96.05 482.48,96.00 482.76,95.94 483.04,95.86 483.32,95.77 483.59,95.70 483.87,95.66 484.15,95.69 484.43,95.77 484.70,95.87 484.98,95.96 485.26,96.03 485.53,96.08 485.81,96.12 486.09,96.14 486.37,96.16 486.64,96.17 486.92,96.17 487.20,96.18 487.48,96.19 487.75,96.19 488.03,96.20 488.31,96.20 488.59,96.21 488.86,96.21 489.14,96.21 489.42,96.22 489.70,96.22 489.97,96.22 490.25,96.23 490.53,96.23 490.80,96.23 491.08,96.24 491.36,96.24 491.64,96.24 491.91,96.24 492.19,96.25 492.47,96.25 492.75,96.25 493.02,96.25 493.30,96.26 493.58,96.26 493.86,96.26 494.13,96.26 494.41,96.27 494.69,96.27 494.97,96.27 495.24,96.27 495.52,96.28 495.80,96.28 496.07,96.28 496.35,96.28 496.63,96.28 496.91,96.29 497.18,96.29 497.46,96.29 497.74,96.29 498.02,96.29 498.29,96.30 498.57,96.30 498.85,96.30 499.13,96.30 499.40,96.30 499.68,96.30 499.96,96.31 500.24,96.31 500.51,96.31 500.79,96.31 501.07,96.31 501.34,96.31 501.62,96.32 501.90,96.32 502.18,96.32 502.45,96.32 502.73,96.32 503.01,96.32 503.29,96.32 503.56,96.32 503.84,96.32 504.12,96.33 504.40,96.33 504.67,96.33 504.95,96.33 505.23,96.33 505.50,96.33 505.78,96.33 506.06,96.33 506.34,96.33 506.61,96.33 506.89,96.33 507.17,96.33 507.45,96.33 507.72,96.33 508.00,96.33 508.28,96.33 508.56,96.33 508.83,96.33 509.11,96.33 509.39,96.32 509.67,96.32 509.94,96.32 510.22,96.32 510.50,96.32 510.77,96.31 511.05,96.31 511.33,96.31 511.61,96.30 511.88,96.30 512.16,96.29 512.44,96.29 512.72,96.28 512.99,96.27 513.27,96.26 513.55,96.25 513.83,96.24 514.10,96.23 514.38,96.21 514.66,96.20 514.94,96.18 515.21,96.16 515.49,96.13 515.77,96.10 516.04,96.08 516.32,96.04 516.60,96.01 516.88,95.97 517.15,95.93 517.43,95.88 517.71,95.83 517.99,95.78 518.26,95.72 518.54,95.66 518.82,95.59 519.10,95.53 519.37,95.46 519.65,95.38 519.93,95.31 520.21,95.23 520.48,95.15 520.76,95.08 521.04,95.00 521.31,94.93 521.59,94.86 521.87,94.79 522.15,94.73 522.42,94.68 522.70,94.64 522.98,94.60 523.26,94.58 523.53,94.57 523.81,94.57 524.09,94.58 524.37,94.60 524.64,94.63 524.92,94.66 525.20,94.70 525.48,94.74 525.75,94.78 526.03,94.82 526.31,94.85 526.58,94.88 526.86,94.89 527.14,94.89 527.42,94.88 527.69,94.84 527.97,94.79 528.25,94.70 528.53,94.59 528.80,94.45 529.08,94.28 529.36,94.08 529.64,93.86 529.91,93.61 530.19,93.34 530.47,93.07 530.75,92.79 531.02,92.53 531.30,92.30 531.58,92.12 531.85,92.00 532.13,91.97 532.41,92.02 532.69,92.15 532.96,92.36 533.24,92.62 533.52,92.92 533.80,93.24 534.07,93.57 534.35,93.89 534.63,94.20 534.91,94.50 535.18,94.76 535.46,95.01 535.74,95.22 536.02,95.42 536.29,95.58 536.57,95.72 536.85,95.84 537.12,95.94 537.40,96.03 537.68,96.10 537.96,96.16 538.23,96.21 538.51,96.25 538.79,96.29 539.07,96.32 539.34,96.35 539.62,96.37 539.90,96.39 540.18,96.41 540.45,96.43 540.73,96.44 541.01,96.46 541.29,96.47 541.56,96.48"/>
<polyline fill="none" stroke="#00ff00" stroke-width="1.80" stroke-linejoin="round" stroke-linecap="round" points="430.62,70.40 430.89,70.40 431.17,70.39 431.45,70.39 431.73,70.38 432.00,70.37 432.28,70.37 432.56,70.36 432.84,70.35 433.11,70.35 433.39,70.34 433.67,70.33 433.94,70.32 434.22,70.31 434.50,70.30 434.78,70.29 435.05,70.28 435.33,70.27 435.61,70.26 435.89,70.25 436.16,70.24 436.44,70.22 436.72,70.21 437.00,70.19 437.27,70.18 437.55,70.16 437.83,70.14 438.11,70.12 438.38,70.10 438.66,70.08 438.94,70.06 439.21,70.03 439.49,70.01 439.77,69.98 440.05,69.95 440.32,69.91 440.60,69.88 440.88,69.84 441.16,69.79 441.43,69.75 441.71,69.70 441.99,69.64 442.27,69.57 442.54,69.50 442.82,69.42 443.10,69.32 443.38,69.20 443.65,69.06 443.93,68.89 444.21,68.67 444.48,68.40 444.76,68.07 445.04,67.66 445.32,67.16 445.59,66.57 445.87,65.89 446.15,65.13 446.43,64.31 446.70,63.46 446.98,62.63 447.26,61.90 447.54,61.33 447.81,60.98 448.09,60.84 448.37,60.87 448.65,60.96 448.92,61.02 449.20,60.98 449.48,60.77 449.75,60.33 450.03,59.63 450.31,58.65 450.59,57.39 450.86,55.87 451.14,54.13 451.42,52.27 451.70,50.46 451.97,48.92 452.25,47.89 452.53,47.59 452.81,48.08 453.08,49.29 453.36,51.01 453.64,53.00 453.91,55.04 454.19,57.01 454.47,58.81 454.75,60.41 455.02,61.80 455.30,63.00 455.58,64.02 455.86,64.88 456.13,65.60 456.41,66.21 456.69,66.71 456.97,67.13 457.24,67.49 457.52,67.80 457.80,68.05 458.08,68.28 458.35,68.47 458.63,68.64 458.91,68.79 459.18,68.93 459.46,69.05 459.74,69.15 460.02,69.25 460.29,69.33 460.57,69.41 460.85,69.48 461.13,69.55 461.40,69.61 461.68,69.66 461.96,69.72 462.24,69.76 462.51,69.80 462.79,69.84 463.07,69.88 463.35,69.91 463.62,69.95 463.90,69.98 464.18,70.00 464.45,70.03 464.73,70.05 465.01,70.08 465.29,70.10 465.56,70.12 465.84,70.14 466.12,70.15 466.40,70.17 466.67,70.19 466.95,70.20 467.23,70.21 467.51,70.23 467.78,70.24 468.06,70.25 468.34,70.26 468.62,70.27 468.89,70.28 469.17,70.29 469.45,70.30 469.72,70.31 470.00,70.32 470.28,70.33 470.56,70.34 470.83,70.34 471.11,70.35 471.39,70.36 471.67,70.36 471.94,70.37 472.22,70.37 472.50,70.38 472.78,70.39 473.05,70.39 473.33,70.40 473.61,70.40 473.89,70.40 474.16,70.41 474.44,70.41 474.72,70.42 474.99,70.42 475.27,70.42 475.55,70.43 475.83,70.43 476.10,70.43 476.38,70.44 476.66,70.44 476.94,70.44 477.21,70.44 477.49,70.45 477.77,70.45 478.05,70.45 478.32,70.45 478.60,70.46 478.88,70.46 479.16,70.46 479.43,70.46 479.71,70.46 479.99,70.46 480.26,70.46 480.54,70.46 480.82,70.46 481.10,70.45 481.37,70.45 481.65,70.44 481.93,70.42 482.21,70.39 482.48,70.35 482.76,70.29 483.04,70.20 483.32,70.11 483.59,70.03 483.87,70.00 484.15,70.03 484.43,70.10 484.70,70.20 484.98,70.29 485.26,70.35 485.53,70.40 485.81,70.44 486.09,70.46 486.37,70.47 486.64,70.48 486.92,70.49 487.20,70.49 487.48,70.49 487.75,70.50 488.03,70.50 488.31,70.50 488.59,70.50 488.86,70.50 489.14,70.51 489.42,70.51 489.70,70.51 489.97,70.51 490.25,70.51 490.53,70.51 490.80,70.51 491.08,70.51 491.36,70.51 491.64,70.52 491.91,70.52 492.19,70.52 492.47,70.52 492.75,70.52 493.02,70.52 493.30,70.52 493.58,70.52 493.86,70.52 494.13,70.52 494.41,70.52 494.69,70.52 494.97,70.52 495.24,70.52 495.52,70.52 495.80,70.52 496.07,70.52 496.35,70.52 496.63,70.52 496.91,70.52 497.18,70.52 497.46,70.52 497.74,70.52 498.02,70.52 498.29,70.52 498.57,70.52 498.85,70.52 499.13,70.52 499.40,70.52 499.68,70.52 499.96,70.52 500.24,70.52 500.51,70.52 500.79,70.52 501.07,70.52 501.34,70.52 501.62,70.51 501.90,70.51 502.18,70.51 502.45,70.51 502.73,70.51 503.01,70.51 503.29,70.51 503.56,70.51 503.84,70.51 504.12,70.51 504.40,70.50 504.67,70.50 504.95,70.50 505.23,70.50 505.50,70.50 505.78,70.50 506.06,70.50 506.34,70.49 506.61,70.49 506.89,70.49 507.17,70.49 507.45,70.49 507.72,70.48 508.00,70.48 508.28,70.48 508.56,70.48 508.83,70.47 509.11,70.47 509.39,70.47 509.67,70.46 509.94,70.46 510.22,70.46 510.50,70.45 510.77,70.45 511.05,70.44 511.33,70.44 511.61,70.43 511.88,70.42 512.16,70.42 512.44,70.41 512.72,70.40 512.99,70.39 513.27,70.38 513.55,70.36 513.83,70.35 514.10,70.34 514.38,70.32 514.66,70.30 514.94,70.28 515.21,70.26 515.49,70.23 515.77,70.20 516.04,70.17 516.32,70.14 516.60,70.10 516.88,70.06 517.15,70.01 517.43,69.97 517.71,69.91 517.99,69.86 518.26,69.80 518.54,69.74 518.82,69.67 519.10,69.60 519.37,69.53 519.65,69.45 519.93,69.38 520.21,69.30 520.48,69.22 520.76,69.14 521.04,69.06 521.31,68.99 521.59,68.92 521.87,68.85 522.15,68.79 522.42,68.73 522.70,68.69 522.98,68.65 523.26,68.63 523.53,68.62 523.81,68.61 524.09,68.62 524.37,68.64 524.64,68.67 524.92,68.70 525.20,68.74 525.48,68.78 525.75,68.82 526.03,68.86 526.31,68.89 526.58,68.92 526.86,68.93 527.14,68.93 527.42,68.92 527.69,68.89 527.97,68.83 528.25,68.75 528.53,68.65 528.80,68.52 529.08,68.36 529.36,68.17 529.64,67.95 529.91,67.72 530.19,67.46 530.47,67.20 530.75,66.93 531.02,66.68 531.30,66.46 531.58,66.29 531.85,66.18 532.13,66.14 532.41,66.19 532.69,66.31 532.96,66.51 533.24,66.76 533.52,67.04 533.80,67.35 534.07,67.66 534.35,67.97 534.63,68.27 534.91,68.54 535.18,68.80 535.46,69.03 535.74,69.23 536.02,69.41 536.29,69.57 536.57,69.70 536.85,69.82 537.12,69.91 537.40,69.99 537.68,70.06 537.96,70.11 538.23,70.16 538.51,70.20 538.79,70.23 539.07,70.26 539.34,70.28 539.62,70.30 539.90,70.32 540.18,70.34 540.45,70.35 540.73,70.36 541.01,70.37 541.29,70.39 541.56,70.40"/>
<polyline fill="none" stroke="#0000ff" stroke-width="1.80" stroke-linejoin="round" stroke-linecap="round" points="430.62,48.40 430.89,48.40 431.17,48.40 431.45,48.39 431.73,48.39 432.00,48.38 432.28,48.38 432.56,48.37 432.84,48.36 433.11,48.36 433.39,48.35 433.67,48.35 433.94,48.34 434.22,48.33 434.50,48.32 434.78,48.31 435.05,48.31 435.33,48.30 435.61,48.29 435.89,48.28 436.16,48.27 436.44,48.25 436.72,48.24 437.00,48.23 437.27,48.21 437.55,48.20 437.83,48.18 438.11,48.17 438.38,48.15 438.66,48.13 438.94,48.11 439.21,48.09 439.49,48.07 439.77,48.04 440.05,48.01 440.32,47.98 440.60,47.95 440.88,47.92 441.16,47.88 441.43,47.84 441.71,47.80 441.99,47.75 442.27,47.70 442.54,47.64 442.82,47.58 443.10,47.51 443.38,47.43 443.65,47.33 443.93,47.23 444.21,47.10 444.48,46.94 444.76,46.74 445.04,46.49 445.32,46.17 445.59,45.76 445.87,45.25 446.15,44.63 446.43,43.89 446.70,43.06 446.98,42.15 447.26,41.23 447.54,40.37 447.81,39.69 448.09,39.27 448.37,39.12 448.65,39.15 448.92,39.24 449.20,39.26 449.48,39.12 449.75,38.74 450.03,38.08 450.31,37.10 450.59,35.79 450.86,34.15 451.14,32.22 451.42,30.07 451.70,27.82 451.97,25.70 452.25,23.98 452.53,22.96 452.81,22.85 453.08,23.68 453.36,25.31 453.64,27.43 453.91,29.78 454.19,32.12 454.47,34.32 454.75,36.30 455.02,38.04 455.30,39.53 455.58,40.80 455.86,41.87 456.13,42.77 456.41,43.52 456.69,44.14 456.97,44.66 457.24,45.10 457.52,45.46 457.80,45.77 458.08,46.04 458.35,46.27 458.63,46.47 458.91,46.65 459.18,46.81 459.46,46.95 459.74,47.07 460.02,47.18 460.29,47.28 460.57,47.37 460.85,47.46 461.13,47.53 461.40,47.60 461.68,47.66 461.96,47.72 462.24,47.78 462.51,47.83 462.79,47.87 463.07,47.91 463.35,47.95 463.62,47.99 463.90,48.02 464.18,48.05 464.45,48.08 464.73,48.11 465.01,48.14 465.29,48.16 465.56,48.18 465.84,48.21 466.12,48.23 466.40,48.24 466.67,48.26 466.95,48.28 467.23,48.30 467.51,48.31 467.78,48.33 468.06,48.34 468.34,48.35 468.62,48.37 468.89,48.38 469.17,48.39 469.45,48.40 469.72,48.41 470.00,48.42 470.28,48.43 470.56,48.44 470.83,48.45 471.11,48.46 471.39,48.46 471.67,48.47 471.94,48.48 472.22,48.49 472.50,48.49 472.78,48.50 473.05,48.51 473.33,48.51 473.61,48.52 473.89,48.52 474.16,48.53 474.44,48.53 474.72,48.54 474.99,48.54 475.27,48.55 475.55,48.55 475.83,48.56 476.10,48.56 476.38,48.57 476.66,48.57 476.94,48.57 477.21,48.58 477.49,48.58 477.77,48.58 478.05,48.59 478.32,48.59 478.60,48.59 478.88,48.59 479.16,48.59 479.43,48.59 479.71,48.60 479.99,48.60 480.26,48.60 480.54,48.59 480.82,48.59 481.10,48.59 481.37,48.58 481.65,48.56 481.93,48.53 482.21,48.49 482.48,48.42 482.76,48.32 483.04,48.19 483.32,48.04 483.59,47.91 483.87,47.86 484.15,47.90 484.43,48.03 484.70,48.18 484.98,48.32 485.26,48.43 485.53,48.51 485.81,48.56 486.09,48.59 486.37,48.62 486.64,48.63 486.92,48.64 487.20,48.65 487.48,48.65 487.75,48.66 488.03,48.66 488.31,48.67 488.59,48.67 488.86,48.67 489.14,48.68 489.42,48.68 489.70,48.68 489.97,48.69 490.25,48.69 490.53,48.69 490.80,48.69 491.08,48.69 491.36,48.70 491.64,48.70 491.91,48.70 492.19,48.70 492.47,48.70 492.75,48.70 493.02,48.71 493.30,48.71 493.58,48.71 493.86,48.71 494.13,48.71 494.41,48.71 494.69,48.71 494.97,48.71 495.24,48.71 495.52,48.72 495.80,48.72 496.07,48.72 496.35,48.72 496.63,48.72 496.91,48.72 497.18,48.72 497.46,48.72 497.74,48.72 498.02,48.72 498.29,48.72 498.57,48.73 498.85,48.73 499.13,48.73 499.40,48.73 499.68,48.73 499.96,48.73 500.24,48.73 500.51,48.73 500.79,48.73 501.07,48.73 501.34,48.73 501.62,48.73 501.90,48.73 502.18,48.73 502.45,48.73 502.73,48.73 503.01,48.73 503.29,48.73 503.56,48.73 503.84,48.73 504.12,48.73 504.40,48.73 504.67,48.73 504.95,48.73 505.23,48.73 505.50,48.73 505.78,48.73 506.06,48.73 506.34,48.72 506.61,48.72 506.89,48.72 507.17,48.72 507.45,48.72 507.72,48.72 508.00,48.72 508.28,48.72 508.56,48.71 508.83,48.71 509.11,48.71 509.39,48.71 509.67,48.70 509.94,48.70 510.22,48.70 510.50,48.69 510.77,48.69 511.05,48.69 511.33,48.68 511.61,48.68 511.88,48.67 512.16,48.66 512.44,48.66 512.72,48.65 512.99,48.64 513.27,48.63 513.55,48.62 513.83,48.61 514.10,48.59 514.38,48.58 514.66,48.56 514.94,48.54 515.21,48.52 515.49,48.49 515.77,48.46 516.04,48.43 516.32,48.40 516.60,48.36 516.88,48.32 517.15,48.28 517.43,48.23 517.71,48.18 517.99,48.13 518.26,48.07 518.54,48.01 518.82,47.94 519.10,47.87 519.37,47.80 519.65,47.73 519.93,47.65 520.21,47.58 520.48,47.50 520.76,47.42 521.04,47.35 521.31,47.27 521.59,47.20 521.87,47.14 522.15,47.08 522.42,47.02 522.70,46.98 522.98,46.95 523.26,46.93 523.53,46.91 523.81,46.92 524.09,46.93 524.37,46.95 524.64,46.98 524.92,47.02 525.20,47.06 525.48,47.11 525.75,47.16 526.03,47.21 526.31,47.26 526.58,47.30 526.86,47.34 527.14,47.37 527.42,47.39 527.69,47.40 527.97,47.39 528.25,47.36 528.53,47.31 528.80,47.23 529.08,47.13 529.36,47.00 529.64,46.84 529.91,46.65 530.19,46.43 530.47,46.18 530.75,45.91 531.02,45.62 531.30,45.33 531.58,45.04 531.85,44.76 532.13,44.53 532.41,44.34 532.69,44.23 532.96,44.21 533.24,44.27 533.52,44.41 533.80,44.63 534.07,44.90 534.35,45.21 534.63,45.53 534.91,45.87 535.18,46.19 535.46,46.50 535.74,46.80 536.02,47.06 536.29,47.30 536.57,47.52 536.85,47.71 537.12,47.87 537.40,48.01 537.68,48.13 537.96,48.22 538.23,48.31 538.51,48.38 538.79,48.43 539.07,48.48 539.34,48.52 539.62,48.56 539.90,48.58 540.18,48.61 540.45,48.63 540.73,48.65 541.01,48.67 541.29,48.68 541.56,48.70"/>
<line x1="124.74" y1="160.40" x2="124.74" y2="145.40" stroke="#7f00ff" stroke-width="1.50"/>
<line x1="146.23" y1="160.40" x2="146.23" y2="152.60" stroke="#7f00ff" stroke-width="1.50"/>
<line x1="214.46" y1="160.40" x2="214.46" y2="143.00" stroke="#7f00ff" stroke-width="1.50"/>
<line x1="256.22" y1="160.40" x2="256.22" y2="150.30" stroke="#7f00ff" stroke-width="1.50"/>
<line x1="269.10" y1="160.40" x2="269.10" y2="153.00" stroke="#7f00ff" stroke-width="1.50"/>
<text transform="translate(127.45,143.30) rotate(-90)" font-size="6.90" fill="#a264ff" class="vl">(111)</text>
<text transform="translate(216.94,140.50) rotate(-90)" font-size="6.60" fill="#a264ff" class="vl">(220)</text>
<text transform="translate(258.59,147.70) rotate(-90)" font-size="6.60" fill="#a264ff" class="vl">(311)</text>
<line x1="53.66" y1="205.85" x2="53.66" y2="201.20" stroke="#ff00ff" stroke-width="1.35"/>
<line x1="54.47" y1="205.85" x2="54.47" y2="200.40" stroke="#ff00ff" stroke-width="1.35"/>
<line x1="117.11" y1="205.85" x2="117.11" y2="201.30" stroke="#ff00ff" stroke-width="1.35"/>
<line x1="121.28" y1="205.85" x2="121.28" y2="198.60" stroke="#ff00ff" stroke-width="1.35"/>
<line x1="123.06" y1="205.85" x2="123.06" y2="195.50" stroke="#ff00ff" stroke-width="1.35"/>
<line x1="184.42" y1="205.85" x2="184.42" y2="203.30" stroke="#ff00ff" stroke-width="1.35"/>
<line x1="185.95" y1="205.85" x2="185.95" y2="203.30" stroke="#ff00ff" stroke-width="1.35"/>
<line x1="190.63" y1="205.85" x2="190.63" y2="200.75" stroke="#ff00ff" stroke-width="1.35"/>
<line x1="192.21" y1="205.85" x2="192.21" y2="203.30" stroke="#ff00ff" stroke-width="1.35"/>
<line x1="209.37" y1="205.85" x2="209.37" y2="203.30" stroke="#ff00ff" stroke-width="1.35"/>
<line x1="211.92" y1="205.85" x2="211.92" y2="181.80" stroke="#ff00ff" stroke-width="1.35"/>
<line x1="249.70" y1="205.85" x2="249.70" y2="202.80" stroke="#ff00ff" stroke-width="1.35"/>
<line x1="252.20" y1="205.85" x2="252.20" y2="200.75" stroke="#ff00ff" stroke-width="1.35"/>
<line x1="261.92" y1="205.85" x2="261.92" y2="203.90" stroke="#ff00ff" stroke-width="1.35"/>
<line x1="265.69" y1="205.85" x2="265.69" y2="203.90" stroke="#ff00ff" stroke-width="1.35"/>
<line x1="296.24" y1="205.85" x2="296.24" y2="203.90" stroke="#ff00ff" stroke-width="1.35"/>
<line x1="298.99" y1="205.85" x2="298.99" y2="203.90" stroke="#ff00ff" stroke-width="1.35"/>
<text transform="translate(56.87,197.30) rotate(-90)" font-size="6.40" fill="#ff5cff" class="vl">(030)</text>
<text transform="translate(115.08,200.10) rotate(-90)" font-size="6.15" fill="#ff5cff" class="vl">(250)</text>
<text transform="translate(121.38,198.70) rotate(-90)" font-size="6.15" fill="#ff5cff" class="vl">(410)</text>
<text transform="translate(127.35,193.10) rotate(-90)" font-size="6.35" fill="#ff5cff" class="vl">(211)</text>
<text transform="translate(192.78,197.70) rotate(-90)" font-size="6.15" fill="#ff5cff" class="vl">(090)</text>
<text transform="translate(213.98,179.05) rotate(-90)" font-size="6.15" fill="#ff5cff" class="vl">(541)</text>
<text transform="translate(248.43,199.40) rotate(-90)" font-size="6.15" fill="#ff5cff" class="vl">(322)</text>
<text transform="translate(255.12,197.30) rotate(-90)" font-size="6.25" fill="#ff5cff" class="vl">(701)</text>
<line x1="375.83" y1="160.40" x2="375.83" y2="146.30" stroke="#7f00ff" stroke-width="1.90"/>
<text transform="translate(378.39,143.10) rotate(-90)" font-size="7.30" fill="#a264ff" class="vl">(111)</text>
<line x1="320.79" y1="205.85" x2="320.79" y2="201.20" stroke="#ff00ff" stroke-width="1.90"/>
<text transform="translate(324.49,198.00) rotate(-90)" font-size="7.00" fill="#ff5cff" class="vl">(250)</text>
<line x1="353.21" y1="205.85" x2="353.21" y2="199.40" stroke="#ff00ff" stroke-width="1.90"/>
<text transform="translate(356.59,196.20) rotate(-90)" font-size="7.00" fill="#ff5cff" class="vl">(410)</text>
<line x1="363.95" y1="205.85" x2="363.95" y2="195.30" stroke="#ff00ff" stroke-width="1.90"/>
<text transform="translate(366.88,192.00) rotate(-90)" font-size="7.00" fill="#ff5cff" class="vl">(211)</text>
<line x1="453.00" y1="160.40" x2="453.00" y2="143.20" stroke="#7f00ff" stroke-width="1.90"/>
<text transform="translate(456.19,140.50) rotate(-90)" font-size="7.00" fill="#a264ff" class="vl">(220)</text>
<line x1="533.35" y1="160.40" x2="533.35" y2="150.50" stroke="#7f00ff" stroke-width="1.90"/>
<text transform="translate(535.62,147.60) rotate(-90)" font-size="7.10" fill="#a264ff" class="vl">(311)</text>
<line x1="442.64" y1="205.85" x2="442.64" y2="203.40" stroke="#ff00ff" stroke-width="1.70"/>
<line x1="448.11" y1="205.85" x2="448.11" y2="182.20" stroke="#ff00ff" stroke-width="1.70"/>
<line x1="521.33" y1="205.85" x2="521.33" y2="203.25" stroke="#ff00ff" stroke-width="1.70"/>
<line x1="525.73" y1="205.85" x2="525.73" y2="200.75" stroke="#ff00ff" stroke-width="1.70"/>
<text transform="translate(450.59,180.40) rotate(-90)" font-size="7.00" fill="#ff5cff" class="vl">(541)</text>
<text transform="translate(521.99,200.10) rotate(-90)" font-size="7.00" fill="#ff5cff" class="vl">(322)</text>
<text transform="translate(529.62,197.70) rotate(-90)" font-size="7.10" fill="#ff5cff" class="vl">(701)</text>
<line x1="39.30" y1="206.35" x2="39.30" y2="209.95" stroke="#000" stroke-width="1.50"/>
<line x1="90.22" y1="206.35" x2="90.22" y2="209.95" stroke="#000" stroke-width="1.50"/>
<line x1="90.22" y1="119.80" x2="90.22" y2="123.50" stroke="#000" stroke-width="1.50"/>
<line x1="90.22" y1="160.90" x2="90.22" y2="164.60" stroke="#000" stroke-width="1.50"/>
<line x1="141.14" y1="206.35" x2="141.14" y2="209.95" stroke="#000" stroke-width="1.50"/>
<line x1="141.14" y1="119.80" x2="141.14" y2="121.80" stroke="#000" stroke-width="1.10"/>
<line x1="141.14" y1="160.90" x2="141.14" y2="162.90" stroke="#000" stroke-width="1.10"/>
<line x1="192.06" y1="206.35" x2="192.06" y2="209.95" stroke="#000" stroke-width="1.50"/>
<line x1="192.06" y1="119.80" x2="192.06" y2="123.50" stroke="#000" stroke-width="1.50"/>
<line x1="192.06" y1="160.90" x2="192.06" y2="164.60" stroke="#000" stroke-width="1.50"/>
<line x1="242.98" y1="206.35" x2="242.98" y2="209.95" stroke="#000" stroke-width="1.50"/>
<line x1="242.98" y1="119.80" x2="242.98" y2="121.80" stroke="#000" stroke-width="1.10"/>
<line x1="242.98" y1="160.90" x2="242.98" y2="162.90" stroke="#000" stroke-width="1.10"/>
<line x1="293.90" y1="206.35" x2="293.90" y2="209.95" stroke="#000" stroke-width="1.50"/>
<line x1="293.90" y1="119.80" x2="293.90" y2="123.50" stroke="#000" stroke-width="1.50"/>
<line x1="293.90" y1="160.90" x2="293.90" y2="164.60" stroke="#000" stroke-width="1.50"/>
<line x1="64.76" y1="206.35" x2="64.76" y2="208.45" stroke="#000" stroke-width="1.10"/>
<line x1="115.68" y1="206.35" x2="115.68" y2="208.45" stroke="#000" stroke-width="1.10"/>
<line x1="166.60" y1="206.35" x2="166.60" y2="208.45" stroke="#000" stroke-width="1.10"/>
<line x1="217.52" y1="206.35" x2="217.52" y2="208.45" stroke="#000" stroke-width="1.10"/>
<line x1="268.44" y1="206.35" x2="268.44" y2="208.45" stroke="#000" stroke-width="1.10"/>
<line x1="327.95" y1="119.80" x2="327.95" y2="122.00" stroke="#000" stroke-width="1.10"/>
<line x1="327.95" y1="160.90" x2="327.95" y2="163.10" stroke="#000" stroke-width="1.10"/>
<line x1="327.95" y1="206.35" x2="327.95" y2="208.55" stroke="#000" stroke-width="1.10"/>
<line x1="346.80" y1="119.80" x2="346.80" y2="123.40" stroke="#000" stroke-width="1.50"/>
<line x1="346.80" y1="160.90" x2="346.80" y2="164.50" stroke="#000" stroke-width="1.50"/>
<line x1="346.80" y1="206.35" x2="346.80" y2="209.95" stroke="#000" stroke-width="1.50"/>
<line x1="365.65" y1="119.80" x2="365.65" y2="122.00" stroke="#000" stroke-width="1.10"/>
<line x1="365.65" y1="160.90" x2="365.65" y2="163.10" stroke="#000" stroke-width="1.10"/>
<line x1="365.65" y1="206.35" x2="365.65" y2="208.55" stroke="#000" stroke-width="1.10"/>
<line x1="384.50" y1="119.80" x2="384.50" y2="123.40" stroke="#000" stroke-width="1.50"/>
<line x1="384.50" y1="160.90" x2="384.50" y2="164.50" stroke="#000" stroke-width="1.50"/>
<line x1="384.50" y1="206.35" x2="384.50" y2="209.95" stroke="#000" stroke-width="1.50"/>
<line x1="403.35" y1="119.80" x2="403.35" y2="122.00" stroke="#000" stroke-width="1.10"/>
<line x1="403.35" y1="160.90" x2="403.35" y2="163.10" stroke="#000" stroke-width="1.10"/>
<line x1="403.35" y1="206.35" x2="403.35" y2="208.55" stroke="#000" stroke-width="1.10"/>
<line x1="422.20" y1="119.80" x2="422.20" y2="123.40" stroke="#000" stroke-width="1.50"/>
<line x1="422.20" y1="160.90" x2="422.20" y2="164.50" stroke="#000" stroke-width="1.50"/>
<line x1="422.20" y1="206.35" x2="422.20" y2="209.95" stroke="#000" stroke-width="1.50"/>
<line x1="448.70" y1="119.80" x2="448.70" y2="123.40" stroke="#000" stroke-width="1.50"/>
<line x1="448.70" y1="160.90" x2="448.70" y2="164.50" stroke="#000" stroke-width="1.50"/>
<line x1="448.70" y1="206.35" x2="448.70" y2="209.95" stroke="#000" stroke-width="1.50"/>
<line x1="468.25" y1="119.80" x2="468.25" y2="122.00" stroke="#000" stroke-width="1.10"/>
<line x1="468.25" y1="160.90" x2="468.25" y2="163.10" stroke="#000" stroke-width="1.10"/>
<line x1="468.25" y1="206.35" x2="468.25" y2="208.55" stroke="#000" stroke-width="1.10"/>
<line x1="487.80" y1="119.80" x2="487.80" y2="123.40" stroke="#000" stroke-width="1.50"/>
<line x1="487.80" y1="160.90" x2="487.80" y2="164.50" stroke="#000" stroke-width="1.50"/>
<line x1="487.80" y1="206.35" x2="487.80" y2="209.95" stroke="#000" stroke-width="1.50"/>
<line x1="507.35" y1="119.80" x2="507.35" y2="122.00" stroke="#000" stroke-width="1.10"/>
<line x1="507.35" y1="160.90" x2="507.35" y2="163.10" stroke="#000" stroke-width="1.10"/>
<line x1="507.35" y1="206.35" x2="507.35" y2="208.55" stroke="#000" stroke-width="1.10"/>
<line x1="526.90" y1="119.80" x2="526.90" y2="123.40" stroke="#000" stroke-width="1.50"/>
<line x1="526.90" y1="160.90" x2="526.90" y2="164.50" stroke="#000" stroke-width="1.50"/>
<line x1="526.90" y1="206.35" x2="526.90" y2="209.95" stroke="#000" stroke-width="1.50"/>
<rect x="39.30" y="7.70" width="269.80" height="198.65" fill="none" stroke="#000" stroke-width="1.6"/>
<line x1="39.30" y1="119.80" x2="309.10" y2="119.80" stroke="#000" stroke-width="1.35"/>
<line x1="39.30" y1="160.90" x2="309.10" y2="160.90" stroke="#000" stroke-width="1.35"/>
<rect x="313.00" y="7.70" width="113.10" height="198.65" fill="none" stroke="#000" stroke-width="1.6"/>
<line x1="313.00" y1="119.80" x2="426.10" y2="119.80" stroke="#000" stroke-width="1.35"/>
<line x1="313.00" y1="160.90" x2="426.10" y2="160.90" stroke="#000" stroke-width="1.35"/>
<rect x="430.10" y="7.70" width="113.00" height="198.65" fill="none" stroke="#000" stroke-width="1.6"/>
<line x1="430.10" y1="119.80" x2="543.10" y2="119.80" stroke="#000" stroke-width="1.35"/>
<line x1="430.10" y1="160.90" x2="543.10" y2="160.90" stroke="#000" stroke-width="1.35"/>
<text x="40.10" y="221.10" class="tl" >10</text>
<text x="90.22" y="221.10" class="tl" >20</text>
<text x="141.14" y="221.10" class="tl" >30</text>
<text x="192.06" y="221.10" class="tl" >40</text>
<text x="242.98" y="221.10" class="tl" >50</text>
<text x="293.90" y="221.10" class="tl" >60</text>
<text x="346.80" y="221.10" class="tl" >26</text>
<text x="384.50" y="221.10" class="tl" >27</text>
<text x="421.60" y="221.10" class="tl" >28</text>
<text x="448.70" y="221.10" class="tl" >44</text>
<text x="487.80" y="221.10" class="tl" >48</text>
<text x="526.90" y="221.10" class="tl" >52</text>
<text x="41.60" y="20.80" class="pl" >(a)</text>
<text x="315.00" y="20.70" class="pl" >(b)</text>
<text x="432.60" y="20.70" class="pl" font-weight="bold">(c)</text>
<text x="302.40" y="43.60" class="sl" fill="#0000ff">x=0.06</text>
<text x="300.30" y="65.00" class="sl" fill="#00ff00">x=0.04</text>
<text x="300.10" y="85.70" class="sl" fill="#ff0000">x=0.02</text>
<text x="296.60" y="110.80" class="sl" fill="#000">x=0</text>
<text x="420.90" y="41.60" class="sl" fill="#0000ff">x=0.06</text>
<text x="422.40" y="64.00" class="sl" fill="#00ff00">x=0.04</text>
<text x="423.40" y="86.00" class="sl" fill="#ff0000">x=0.02</text>
<text x="419.50" y="110.70" class="sl" fill="#000">x=0</text>
<text x="516.20" y="45.70" class="sl" fill="#0000ff">x=0.06</text>
<text x="515.80" y="66.60" class="sl" fill="#00ff00">x=0.04</text>
<text x="515.80" y="92.80" class="sl" fill="#ff0000">x=0.02</text>
<text x="513.00" y="112.40" class="sl" fill="#000">x=0</text>
<text x="40.9" y="131.4" class="pdf" fill="#6a00ff" textLength="71.9" lengthAdjust="spacingAndGlyphs">PDF01-071-0044 β-Cu2Se</text>
<text x="40.9" y="170.2" class="pdf" fill="#ff00ff" textLength="71.9" lengthAdjust="spacingAndGlyphs">PDF00-047-1448 α-Cu2Se</text>
<text x="180.2" y="238.6" class="ax" text-anchor="middle"><tspan font-style="italic">2θ</tspan> (degree)</text>
<text transform="translate(18.0,117.8) rotate(-90)" class="ax" text-anchor="middle" style="font-size:16.75px"><tspan font-style="italic">Intensity</tspan> (a.u.)</text>
</svg>
</body></html>
